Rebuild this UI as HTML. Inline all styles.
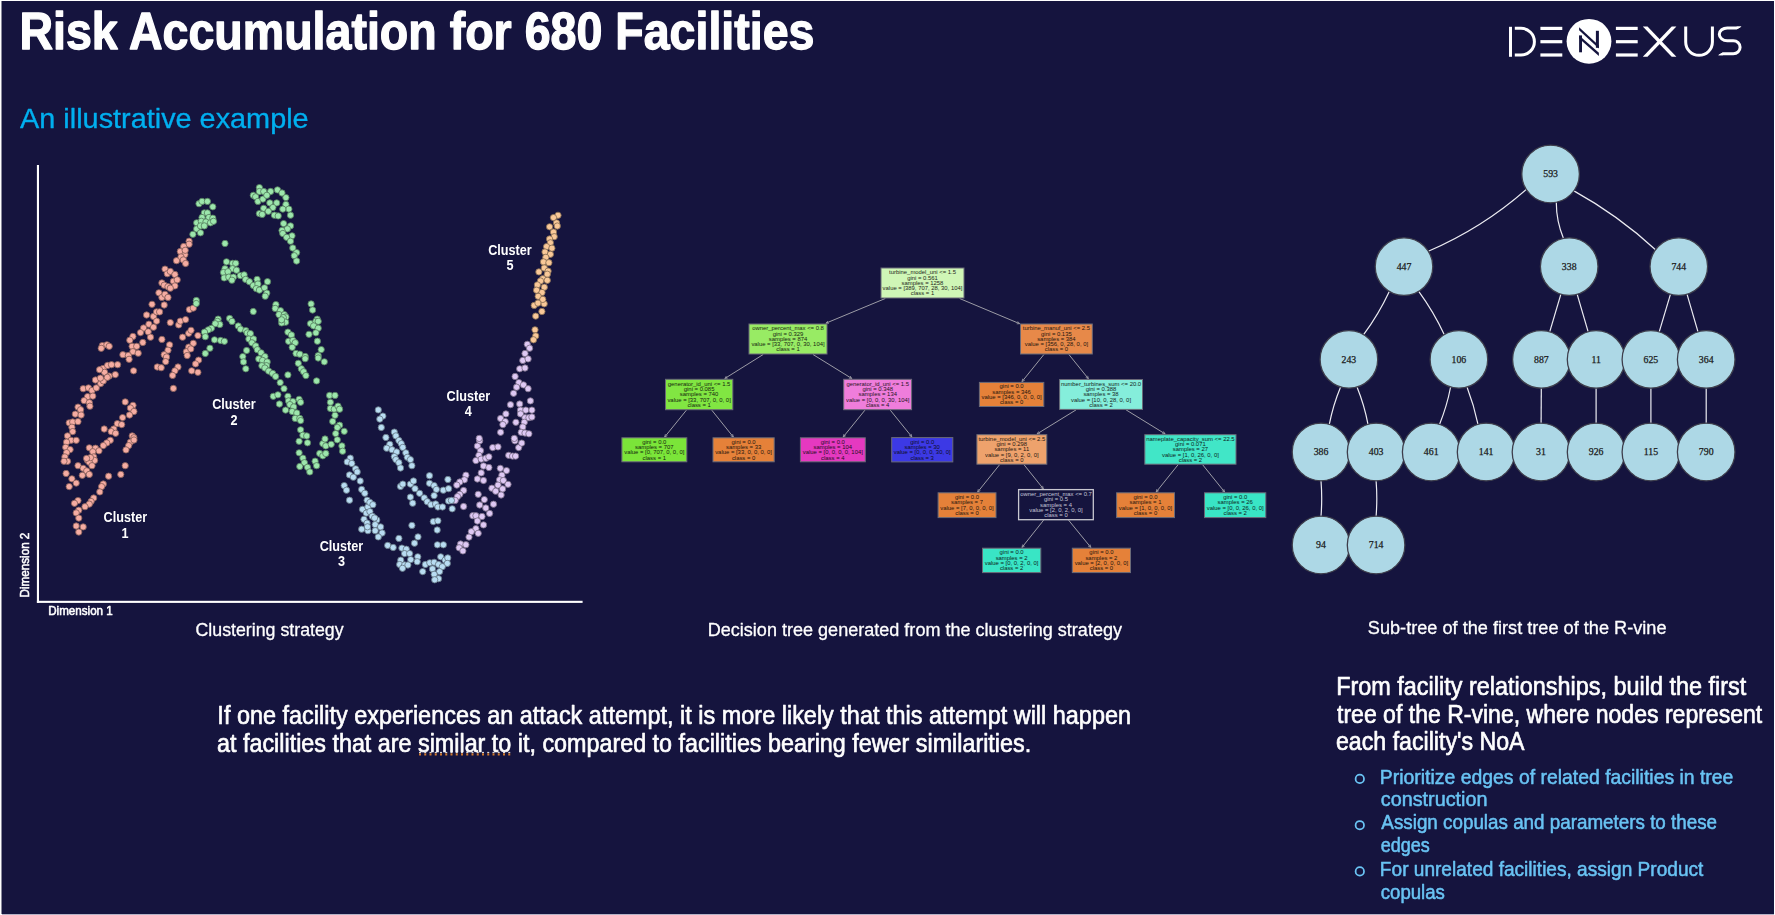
<!DOCTYPE html>
<html><head><meta charset="utf-8"><title>Risk Accumulation for 680 Facilities</title>
<style>
html,body{margin:0;padding:0;background:#fff;}
body{width:1775px;height:915px;position:relative;overflow:hidden;font-family:"Liberation Sans",sans-serif;}
#bg{position:absolute;left:2px;top:1px;width:1772px;height:913px;background:#15143e;}
#lcol{position:absolute;left:1px;top:1px;width:1px;height:913px;background:#8a8a9c;}
#bot{position:absolute;left:1.5px;top:914px;width:1772px;height:1px;background:#b4b2c6;}
svg{position:absolute;left:0;top:0;}
</style></head><body>
<div id="bg"></div><div id="lcol"></div><div id="bot"></div>
<svg width="1775" height="915" viewBox="0 0 1775 915">
<rect x="36.9" y="165" width="2.1" height="437.8" fill="#fff"/>
<rect x="36.9" y="600.8" width="545.7" height="2.1" fill="#fff"/>
<circle cx="83.2" cy="388.7" r="3.15" fill="#f5aca2" stroke="#865e59" stroke-width="0.85"/>
<circle cx="88.5" cy="387.9" r="3.15" fill="#f5aca2" stroke="#865e59" stroke-width="0.85"/>
<circle cx="92.0" cy="390.5" r="3.15" fill="#f5aca2" stroke="#865e59" stroke-width="0.85"/>
<circle cx="96.3" cy="387.9" r="3.15" fill="#f5aca2" stroke="#865e59" stroke-width="0.85"/>
<circle cx="100.7" cy="383.5" r="3.15" fill="#f5aca2" stroke="#865e59" stroke-width="0.85"/>
<circle cx="103.3" cy="380.9" r="3.15" fill="#f5aca2" stroke="#865e59" stroke-width="0.85"/>
<circle cx="95.5" cy="380.0" r="3.15" fill="#f5aca2" stroke="#865e59" stroke-width="0.85"/>
<circle cx="87.6" cy="396.6" r="3.15" fill="#f5aca2" stroke="#865e59" stroke-width="0.85"/>
<circle cx="92.8" cy="396.1" r="3.15" fill="#f5aca2" stroke="#865e59" stroke-width="0.85"/>
<circle cx="84.1" cy="400.6" r="3.15" fill="#f5aca2" stroke="#865e59" stroke-width="0.85"/>
<circle cx="89.3" cy="402.7" r="3.15" fill="#f5aca2" stroke="#865e59" stroke-width="0.85"/>
<circle cx="89.9" cy="406.2" r="3.15" fill="#f5aca2" stroke="#865e59" stroke-width="0.85"/>
<circle cx="78.0" cy="407.1" r="3.15" fill="#f5aca2" stroke="#865e59" stroke-width="0.85"/>
<circle cx="80.6" cy="409.7" r="3.15" fill="#f5aca2" stroke="#865e59" stroke-width="0.85"/>
<circle cx="75.3" cy="414.1" r="3.15" fill="#f5aca2" stroke="#865e59" stroke-width="0.85"/>
<circle cx="81.1" cy="415.0" r="3.15" fill="#f5aca2" stroke="#865e59" stroke-width="0.85"/>
<circle cx="69.2" cy="422.8" r="3.15" fill="#f5aca2" stroke="#865e59" stroke-width="0.85"/>
<circle cx="72.7" cy="422.0" r="3.15" fill="#f5aca2" stroke="#865e59" stroke-width="0.85"/>
<circle cx="78.0" cy="421.6" r="3.15" fill="#f5aca2" stroke="#865e59" stroke-width="0.85"/>
<circle cx="71.9" cy="427.2" r="3.15" fill="#f5aca2" stroke="#865e59" stroke-width="0.85"/>
<circle cx="72.7" cy="431.6" r="3.15" fill="#f5aca2" stroke="#865e59" stroke-width="0.85"/>
<circle cx="67.5" cy="435.9" r="3.15" fill="#f5aca2" stroke="#865e59" stroke-width="0.85"/>
<circle cx="71.0" cy="440.3" r="3.15" fill="#f5aca2" stroke="#865e59" stroke-width="0.85"/>
<circle cx="66.6" cy="442.1" r="3.15" fill="#f5aca2" stroke="#865e59" stroke-width="0.85"/>
<circle cx="76.2" cy="440.3" r="3.15" fill="#f5aca2" stroke="#865e59" stroke-width="0.85"/>
<circle cx="65.7" cy="447.3" r="3.15" fill="#f5aca2" stroke="#865e59" stroke-width="0.85"/>
<circle cx="70.1" cy="449.6" r="3.15" fill="#f5aca2" stroke="#865e59" stroke-width="0.85"/>
<circle cx="66.6" cy="452.6" r="3.15" fill="#f5aca2" stroke="#865e59" stroke-width="0.85"/>
<circle cx="64.9" cy="456.9" r="3.15" fill="#f5aca2" stroke="#865e59" stroke-width="0.85"/>
<circle cx="67.5" cy="461.3" r="3.15" fill="#f5aca2" stroke="#865e59" stroke-width="0.85"/>
<circle cx="64.0" cy="461.3" r="3.15" fill="#f5aca2" stroke="#865e59" stroke-width="0.85"/>
<circle cx="66.1" cy="473.5" r="3.15" fill="#f5aca2" stroke="#865e59" stroke-width="0.85"/>
<circle cx="71.9" cy="478.8" r="3.15" fill="#f5aca2" stroke="#865e59" stroke-width="0.85"/>
<circle cx="76.2" cy="483.1" r="3.15" fill="#f5aca2" stroke="#865e59" stroke-width="0.85"/>
<circle cx="69.2" cy="486.6" r="3.15" fill="#f5aca2" stroke="#865e59" stroke-width="0.85"/>
<circle cx="125.2" cy="401.9" r="3.15" fill="#f5aca2" stroke="#865e59" stroke-width="0.85"/>
<circle cx="133.0" cy="405.3" r="3.15" fill="#f5aca2" stroke="#865e59" stroke-width="0.85"/>
<circle cx="130.4" cy="408.0" r="3.15" fill="#f5aca2" stroke="#865e59" stroke-width="0.85"/>
<circle cx="133.9" cy="411.5" r="3.15" fill="#f5aca2" stroke="#865e59" stroke-width="0.85"/>
<circle cx="129.5" cy="415.0" r="3.15" fill="#f5aca2" stroke="#865e59" stroke-width="0.85"/>
<circle cx="122.6" cy="417.6" r="3.15" fill="#f5aca2" stroke="#865e59" stroke-width="0.85"/>
<circle cx="117.3" cy="423.7" r="3.15" fill="#f5aca2" stroke="#865e59" stroke-width="0.85"/>
<circle cx="121.7" cy="424.6" r="3.15" fill="#f5aca2" stroke="#865e59" stroke-width="0.85"/>
<circle cx="113.8" cy="429.0" r="3.15" fill="#f5aca2" stroke="#865e59" stroke-width="0.85"/>
<circle cx="111.2" cy="431.6" r="3.15" fill="#f5aca2" stroke="#865e59" stroke-width="0.85"/>
<circle cx="115.6" cy="433.3" r="3.15" fill="#f5aca2" stroke="#865e59" stroke-width="0.85"/>
<circle cx="110.3" cy="440.3" r="3.15" fill="#f5aca2" stroke="#865e59" stroke-width="0.85"/>
<circle cx="106.8" cy="442.9" r="3.15" fill="#f5aca2" stroke="#865e59" stroke-width="0.85"/>
<circle cx="103.3" cy="445.6" r="3.15" fill="#f5aca2" stroke="#865e59" stroke-width="0.85"/>
<circle cx="104.2" cy="429.0" r="3.15" fill="#f5aca2" stroke="#865e59" stroke-width="0.85"/>
<circle cx="89.3" cy="447.8" r="3.15" fill="#f5aca2" stroke="#865e59" stroke-width="0.85"/>
<circle cx="95.5" cy="448.2" r="3.15" fill="#f5aca2" stroke="#865e59" stroke-width="0.85"/>
<circle cx="99.0" cy="450.8" r="3.15" fill="#f5aca2" stroke="#865e59" stroke-width="0.85"/>
<circle cx="92.8" cy="451.7" r="3.15" fill="#f5aca2" stroke="#865e59" stroke-width="0.85"/>
<circle cx="93.7" cy="456.9" r="3.15" fill="#f5aca2" stroke="#865e59" stroke-width="0.85"/>
<circle cx="87.6" cy="460.4" r="3.15" fill="#f5aca2" stroke="#865e59" stroke-width="0.85"/>
<circle cx="94.6" cy="460.4" r="3.15" fill="#f5aca2" stroke="#865e59" stroke-width="0.85"/>
<circle cx="89.3" cy="462.2" r="3.15" fill="#f5aca2" stroke="#865e59" stroke-width="0.85"/>
<circle cx="92.0" cy="465.7" r="3.15" fill="#f5aca2" stroke="#865e59" stroke-width="0.85"/>
<circle cx="78.0" cy="465.7" r="3.15" fill="#f5aca2" stroke="#865e59" stroke-width="0.85"/>
<circle cx="83.2" cy="468.3" r="3.15" fill="#f5aca2" stroke="#865e59" stroke-width="0.85"/>
<circle cx="86.7" cy="470.9" r="3.15" fill="#f5aca2" stroke="#865e59" stroke-width="0.85"/>
<circle cx="89.3" cy="474.4" r="3.15" fill="#f5aca2" stroke="#865e59" stroke-width="0.85"/>
<circle cx="82.3" cy="475.3" r="3.15" fill="#f5aca2" stroke="#865e59" stroke-width="0.85"/>
<circle cx="132.2" cy="435.9" r="3.15" fill="#f5aca2" stroke="#865e59" stroke-width="0.85"/>
<circle cx="133.9" cy="437.7" r="3.15" fill="#f5aca2" stroke="#865e59" stroke-width="0.85"/>
<circle cx="130.4" cy="442.1" r="3.15" fill="#f5aca2" stroke="#865e59" stroke-width="0.85"/>
<circle cx="128.7" cy="445.6" r="3.15" fill="#f5aca2" stroke="#865e59" stroke-width="0.85"/>
<circle cx="126.0" cy="449.9" r="3.15" fill="#f5aca2" stroke="#865e59" stroke-width="0.85"/>
<circle cx="125.2" cy="465.7" r="3.15" fill="#f5aca2" stroke="#865e59" stroke-width="0.85"/>
<circle cx="120.8" cy="474.4" r="3.15" fill="#f5aca2" stroke="#865e59" stroke-width="0.85"/>
<circle cx="108.6" cy="476.2" r="3.15" fill="#f5aca2" stroke="#865e59" stroke-width="0.85"/>
<circle cx="103.3" cy="484.0" r="3.15" fill="#f5aca2" stroke="#865e59" stroke-width="0.85"/>
<circle cx="101.6" cy="486.6" r="3.15" fill="#f5aca2" stroke="#865e59" stroke-width="0.85"/>
<circle cx="99.8" cy="491.9" r="3.15" fill="#f5aca2" stroke="#865e59" stroke-width="0.85"/>
<circle cx="93.7" cy="498.0" r="3.15" fill="#f5aca2" stroke="#865e59" stroke-width="0.85"/>
<circle cx="91.1" cy="501.5" r="3.15" fill="#f5aca2" stroke="#865e59" stroke-width="0.85"/>
<circle cx="89.3" cy="504.1" r="3.15" fill="#f5aca2" stroke="#865e59" stroke-width="0.85"/>
<circle cx="85.0" cy="506.7" r="3.15" fill="#f5aca2" stroke="#865e59" stroke-width="0.85"/>
<circle cx="78.0" cy="500.6" r="3.15" fill="#f5aca2" stroke="#865e59" stroke-width="0.85"/>
<circle cx="74.5" cy="503.3" r="3.15" fill="#f5aca2" stroke="#865e59" stroke-width="0.85"/>
<circle cx="78.8" cy="510.2" r="3.15" fill="#f5aca2" stroke="#865e59" stroke-width="0.85"/>
<circle cx="76.2" cy="512.9" r="3.15" fill="#f5aca2" stroke="#865e59" stroke-width="0.85"/>
<circle cx="78.8" cy="518.1" r="3.15" fill="#f5aca2" stroke="#865e59" stroke-width="0.85"/>
<circle cx="76.2" cy="526.0" r="3.15" fill="#f5aca2" stroke="#865e59" stroke-width="0.85"/>
<circle cx="83.2" cy="526.9" r="3.15" fill="#f5aca2" stroke="#865e59" stroke-width="0.85"/>
<circle cx="78.8" cy="532.1" r="3.15" fill="#f5aca2" stroke="#865e59" stroke-width="0.85"/>
<circle cx="180.3" cy="251.5" r="3.15" fill="#f5aca2" stroke="#865e59" stroke-width="0.85"/>
<circle cx="184.9" cy="254.6" r="3.15" fill="#f5aca2" stroke="#865e59" stroke-width="0.85"/>
<circle cx="181.0" cy="256.9" r="3.15" fill="#f5aca2" stroke="#865e59" stroke-width="0.85"/>
<circle cx="176.5" cy="260.7" r="3.15" fill="#f5aca2" stroke="#865e59" stroke-width="0.85"/>
<circle cx="183.3" cy="259.9" r="3.15" fill="#f5aca2" stroke="#865e59" stroke-width="0.85"/>
<circle cx="185.6" cy="263.5" r="3.15" fill="#f5aca2" stroke="#865e59" stroke-width="0.85"/>
<circle cx="165.0" cy="269.1" r="3.15" fill="#f5aca2" stroke="#865e59" stroke-width="0.85"/>
<circle cx="167.3" cy="273.7" r="3.15" fill="#f5aca2" stroke="#865e59" stroke-width="0.85"/>
<circle cx="170.3" cy="271.4" r="3.15" fill="#f5aca2" stroke="#865e59" stroke-width="0.85"/>
<circle cx="174.9" cy="274.5" r="3.15" fill="#f5aca2" stroke="#865e59" stroke-width="0.85"/>
<circle cx="173.4" cy="281.3" r="3.15" fill="#f5aca2" stroke="#865e59" stroke-width="0.85"/>
<circle cx="177.2" cy="279.8" r="3.15" fill="#f5aca2" stroke="#865e59" stroke-width="0.85"/>
<circle cx="174.9" cy="285.9" r="3.15" fill="#f5aca2" stroke="#865e59" stroke-width="0.85"/>
<circle cx="161.9" cy="282.9" r="3.15" fill="#f5aca2" stroke="#865e59" stroke-width="0.85"/>
<circle cx="164.2" cy="285.2" r="3.15" fill="#f5aca2" stroke="#865e59" stroke-width="0.85"/>
<circle cx="168.0" cy="286.7" r="3.15" fill="#f5aca2" stroke="#865e59" stroke-width="0.85"/>
<circle cx="170.3" cy="288.2" r="3.15" fill="#f5aca2" stroke="#865e59" stroke-width="0.85"/>
<circle cx="158.9" cy="292.8" r="3.15" fill="#f5aca2" stroke="#865e59" stroke-width="0.85"/>
<circle cx="161.9" cy="297.4" r="3.15" fill="#f5aca2" stroke="#865e59" stroke-width="0.85"/>
<circle cx="165.0" cy="294.3" r="3.15" fill="#f5aca2" stroke="#865e59" stroke-width="0.85"/>
<circle cx="168.0" cy="297.4" r="3.15" fill="#f5aca2" stroke="#865e59" stroke-width="0.85"/>
<circle cx="152.0" cy="304.3" r="3.15" fill="#f5aca2" stroke="#865e59" stroke-width="0.85"/>
<circle cx="164.2" cy="305.0" r="3.15" fill="#f5aca2" stroke="#865e59" stroke-width="0.85"/>
<circle cx="146.6" cy="315.0" r="3.15" fill="#f5aca2" stroke="#865e59" stroke-width="0.85"/>
<circle cx="153.5" cy="316.5" r="3.15" fill="#f5aca2" stroke="#865e59" stroke-width="0.85"/>
<circle cx="156.6" cy="311.9" r="3.15" fill="#f5aca2" stroke="#865e59" stroke-width="0.85"/>
<circle cx="159.6" cy="311.9" r="3.15" fill="#f5aca2" stroke="#865e59" stroke-width="0.85"/>
<circle cx="156.6" cy="321.1" r="3.15" fill="#f5aca2" stroke="#865e59" stroke-width="0.85"/>
<circle cx="148.9" cy="324.2" r="3.15" fill="#f5aca2" stroke="#865e59" stroke-width="0.85"/>
<circle cx="153.5" cy="327.2" r="3.15" fill="#f5aca2" stroke="#865e59" stroke-width="0.85"/>
<circle cx="143.6" cy="328.0" r="3.15" fill="#f5aca2" stroke="#865e59" stroke-width="0.85"/>
<circle cx="140.5" cy="332.6" r="3.15" fill="#f5aca2" stroke="#865e59" stroke-width="0.85"/>
<circle cx="148.2" cy="331.8" r="3.15" fill="#f5aca2" stroke="#865e59" stroke-width="0.85"/>
<circle cx="150.5" cy="337.2" r="3.15" fill="#f5aca2" stroke="#865e59" stroke-width="0.85"/>
<circle cx="132.9" cy="336.4" r="3.15" fill="#f5aca2" stroke="#865e59" stroke-width="0.85"/>
<circle cx="129.8" cy="340.2" r="3.15" fill="#f5aca2" stroke="#865e59" stroke-width="0.85"/>
<circle cx="132.1" cy="346.3" r="3.15" fill="#f5aca2" stroke="#865e59" stroke-width="0.85"/>
<circle cx="136.7" cy="346.3" r="3.15" fill="#f5aca2" stroke="#865e59" stroke-width="0.85"/>
<circle cx="142.8" cy="342.5" r="3.15" fill="#f5aca2" stroke="#865e59" stroke-width="0.85"/>
<circle cx="132.9" cy="351.7" r="3.15" fill="#f5aca2" stroke="#865e59" stroke-width="0.85"/>
<circle cx="138.2" cy="353.2" r="3.15" fill="#f5aca2" stroke="#865e59" stroke-width="0.85"/>
<circle cx="122.9" cy="354.7" r="3.15" fill="#f5aca2" stroke="#865e59" stroke-width="0.85"/>
<circle cx="128.3" cy="355.5" r="3.15" fill="#f5aca2" stroke="#865e59" stroke-width="0.85"/>
<circle cx="129.1" cy="359.3" r="3.15" fill="#f5aca2" stroke="#865e59" stroke-width="0.85"/>
<circle cx="102.3" cy="345.6" r="3.15" fill="#f5aca2" stroke="#865e59" stroke-width="0.85"/>
<circle cx="106.9" cy="344.8" r="3.15" fill="#f5aca2" stroke="#865e59" stroke-width="0.85"/>
<circle cx="109.2" cy="346.3" r="3.15" fill="#f5aca2" stroke="#865e59" stroke-width="0.85"/>
<circle cx="103.1" cy="368.5" r="3.15" fill="#f5aca2" stroke="#865e59" stroke-width="0.85"/>
<circle cx="107.6" cy="365.4" r="3.15" fill="#f5aca2" stroke="#865e59" stroke-width="0.85"/>
<circle cx="111.5" cy="364.7" r="3.15" fill="#f5aca2" stroke="#865e59" stroke-width="0.85"/>
<circle cx="117.6" cy="364.7" r="3.15" fill="#f5aca2" stroke="#865e59" stroke-width="0.85"/>
<circle cx="104.6" cy="372.3" r="3.15" fill="#f5aca2" stroke="#865e59" stroke-width="0.85"/>
<circle cx="109.2" cy="376.1" r="3.15" fill="#f5aca2" stroke="#865e59" stroke-width="0.85"/>
<circle cx="115.3" cy="374.6" r="3.15" fill="#f5aca2" stroke="#865e59" stroke-width="0.85"/>
<circle cx="133.6" cy="370.8" r="3.15" fill="#f5aca2" stroke="#865e59" stroke-width="0.85"/>
<circle cx="161.9" cy="339.4" r="3.15" fill="#f5aca2" stroke="#865e59" stroke-width="0.85"/>
<circle cx="169.6" cy="344.8" r="3.15" fill="#f5aca2" stroke="#865e59" stroke-width="0.85"/>
<circle cx="168.0" cy="350.2" r="3.15" fill="#f5aca2" stroke="#865e59" stroke-width="0.85"/>
<circle cx="164.2" cy="354.7" r="3.15" fill="#f5aca2" stroke="#865e59" stroke-width="0.85"/>
<circle cx="166.5" cy="357.0" r="3.15" fill="#f5aca2" stroke="#865e59" stroke-width="0.85"/>
<circle cx="165.7" cy="361.6" r="3.15" fill="#f5aca2" stroke="#865e59" stroke-width="0.85"/>
<circle cx="157.3" cy="367.0" r="3.15" fill="#f5aca2" stroke="#865e59" stroke-width="0.85"/>
<circle cx="161.2" cy="367.7" r="3.15" fill="#f5aca2" stroke="#865e59" stroke-width="0.85"/>
<circle cx="170.3" cy="322.6" r="3.15" fill="#f5aca2" stroke="#865e59" stroke-width="0.85"/>
<circle cx="178.7" cy="324.9" r="3.15" fill="#f5aca2" stroke="#865e59" stroke-width="0.85"/>
<circle cx="180.3" cy="321.1" r="3.15" fill="#f5aca2" stroke="#865e59" stroke-width="0.85"/>
<circle cx="185.6" cy="319.6" r="3.15" fill="#f5aca2" stroke="#865e59" stroke-width="0.85"/>
<circle cx="189.4" cy="309.6" r="3.15" fill="#f5aca2" stroke="#865e59" stroke-width="0.85"/>
<circle cx="193.3" cy="308.1" r="3.15" fill="#f5aca2" stroke="#865e59" stroke-width="0.85"/>
<circle cx="182.6" cy="337.2" r="3.15" fill="#f5aca2" stroke="#865e59" stroke-width="0.85"/>
<circle cx="188.7" cy="333.3" r="3.15" fill="#f5aca2" stroke="#865e59" stroke-width="0.85"/>
<circle cx="191.0" cy="330.3" r="3.15" fill="#f5aca2" stroke="#865e59" stroke-width="0.85"/>
<circle cx="193.3" cy="343.3" r="3.15" fill="#f5aca2" stroke="#865e59" stroke-width="0.85"/>
<circle cx="188.7" cy="347.1" r="3.15" fill="#f5aca2" stroke="#865e59" stroke-width="0.85"/>
<circle cx="186.4" cy="351.7" r="3.15" fill="#f5aca2" stroke="#865e59" stroke-width="0.85"/>
<circle cx="187.2" cy="355.5" r="3.15" fill="#f5aca2" stroke="#865e59" stroke-width="0.85"/>
<circle cx="197.9" cy="335.6" r="3.15" fill="#f5aca2" stroke="#865e59" stroke-width="0.85"/>
<circle cx="178.0" cy="367.0" r="3.15" fill="#f5aca2" stroke="#865e59" stroke-width="0.85"/>
<circle cx="174.9" cy="370.8" r="3.15" fill="#f5aca2" stroke="#865e59" stroke-width="0.85"/>
<circle cx="172.6" cy="375.4" r="3.15" fill="#f5aca2" stroke="#865e59" stroke-width="0.85"/>
<circle cx="173.4" cy="388.4" r="3.15" fill="#f5aca2" stroke="#865e59" stroke-width="0.85"/>
<circle cx="198.6" cy="360.1" r="3.15" fill="#f5aca2" stroke="#865e59" stroke-width="0.85"/>
<circle cx="195.6" cy="363.9" r="3.15" fill="#f5aca2" stroke="#865e59" stroke-width="0.85"/>
<circle cx="191.7" cy="370.8" r="3.15" fill="#f5aca2" stroke="#865e59" stroke-width="0.85"/>
<circle cx="197.9" cy="372.3" r="3.15" fill="#f5aca2" stroke="#865e59" stroke-width="0.85"/>
<circle cx="196.3" cy="300.5" r="3.15" fill="#9ce6ac" stroke="#557e5e" stroke-width="0.85"/>
<circle cx="196.3" cy="303.5" r="3.15" fill="#9ce6ac" stroke="#557e5e" stroke-width="0.85"/>
<circle cx="189.1" cy="241.2" r="3.15" fill="#f5aca2" stroke="#865e59" stroke-width="0.85"/>
<circle cx="189.1" cy="244.2" r="3.15" fill="#f5aca2" stroke="#865e59" stroke-width="0.85"/>
<circle cx="183.7" cy="246.5" r="3.15" fill="#f5aca2" stroke="#865e59" stroke-width="0.85"/>
<circle cx="185.2" cy="250.3" r="3.15" fill="#f5aca2" stroke="#865e59" stroke-width="0.85"/>
<circle cx="199.0" cy="203.7" r="3.15" fill="#9ce6ac" stroke="#557e5e" stroke-width="0.85"/>
<circle cx="202.0" cy="201.4" r="3.15" fill="#9ce6ac" stroke="#557e5e" stroke-width="0.85"/>
<circle cx="207.4" cy="201.4" r="3.15" fill="#9ce6ac" stroke="#557e5e" stroke-width="0.85"/>
<circle cx="212.8" cy="206.8" r="3.15" fill="#9ce6ac" stroke="#557e5e" stroke-width="0.85"/>
<circle cx="204.3" cy="212.9" r="3.15" fill="#9ce6ac" stroke="#557e5e" stroke-width="0.85"/>
<circle cx="207.4" cy="212.9" r="3.15" fill="#9ce6ac" stroke="#557e5e" stroke-width="0.85"/>
<circle cx="202.0" cy="217.5" r="3.15" fill="#9ce6ac" stroke="#557e5e" stroke-width="0.85"/>
<circle cx="208.9" cy="217.5" r="3.15" fill="#9ce6ac" stroke="#557e5e" stroke-width="0.85"/>
<circle cx="212.8" cy="218.2" r="3.15" fill="#9ce6ac" stroke="#557e5e" stroke-width="0.85"/>
<circle cx="196.7" cy="222.8" r="3.15" fill="#9ce6ac" stroke="#557e5e" stroke-width="0.85"/>
<circle cx="201.3" cy="221.3" r="3.15" fill="#9ce6ac" stroke="#557e5e" stroke-width="0.85"/>
<circle cx="205.9" cy="222.0" r="3.15" fill="#9ce6ac" stroke="#557e5e" stroke-width="0.85"/>
<circle cx="210.5" cy="222.8" r="3.15" fill="#9ce6ac" stroke="#557e5e" stroke-width="0.85"/>
<circle cx="213.5" cy="221.3" r="3.15" fill="#9ce6ac" stroke="#557e5e" stroke-width="0.85"/>
<circle cx="196.7" cy="228.9" r="3.15" fill="#9ce6ac" stroke="#557e5e" stroke-width="0.85"/>
<circle cx="200.5" cy="225.9" r="3.15" fill="#9ce6ac" stroke="#557e5e" stroke-width="0.85"/>
<circle cx="204.3" cy="225.9" r="3.15" fill="#9ce6ac" stroke="#557e5e" stroke-width="0.85"/>
<circle cx="192.9" cy="234.3" r="3.15" fill="#9ce6ac" stroke="#557e5e" stroke-width="0.85"/>
<circle cx="200.5" cy="232.8" r="3.15" fill="#9ce6ac" stroke="#557e5e" stroke-width="0.85"/>
<circle cx="225.0" cy="243.5" r="3.15" fill="#9ce6ac" stroke="#557e5e" stroke-width="0.85"/>
<circle cx="226.5" cy="261.8" r="3.15" fill="#9ce6ac" stroke="#557e5e" stroke-width="0.85"/>
<circle cx="232.6" cy="263.3" r="3.15" fill="#9ce6ac" stroke="#557e5e" stroke-width="0.85"/>
<circle cx="235.7" cy="263.3" r="3.15" fill="#9ce6ac" stroke="#557e5e" stroke-width="0.85"/>
<circle cx="225.0" cy="268.7" r="3.15" fill="#9ce6ac" stroke="#557e5e" stroke-width="0.85"/>
<circle cx="232.6" cy="268.7" r="3.15" fill="#9ce6ac" stroke="#557e5e" stroke-width="0.85"/>
<circle cx="236.5" cy="270.2" r="3.15" fill="#9ce6ac" stroke="#557e5e" stroke-width="0.85"/>
<circle cx="223.5" cy="272.5" r="3.15" fill="#9ce6ac" stroke="#557e5e" stroke-width="0.85"/>
<circle cx="228.0" cy="271.7" r="3.15" fill="#9ce6ac" stroke="#557e5e" stroke-width="0.85"/>
<circle cx="224.2" cy="277.9" r="3.15" fill="#9ce6ac" stroke="#557e5e" stroke-width="0.85"/>
<circle cx="228.8" cy="277.1" r="3.15" fill="#9ce6ac" stroke="#557e5e" stroke-width="0.85"/>
<circle cx="233.4" cy="277.1" r="3.15" fill="#9ce6ac" stroke="#557e5e" stroke-width="0.85"/>
<circle cx="231.9" cy="280.2" r="3.15" fill="#9ce6ac" stroke="#557e5e" stroke-width="0.85"/>
<circle cx="240.3" cy="275.6" r="3.15" fill="#9ce6ac" stroke="#557e5e" stroke-width="0.85"/>
<circle cx="244.1" cy="274.8" r="3.15" fill="#9ce6ac" stroke="#557e5e" stroke-width="0.85"/>
<circle cx="245.6" cy="279.4" r="3.15" fill="#9ce6ac" stroke="#557e5e" stroke-width="0.85"/>
<circle cx="249.4" cy="281.7" r="3.15" fill="#9ce6ac" stroke="#557e5e" stroke-width="0.85"/>
<circle cx="253.3" cy="285.5" r="3.15" fill="#9ce6ac" stroke="#557e5e" stroke-width="0.85"/>
<circle cx="257.1" cy="279.4" r="3.15" fill="#9ce6ac" stroke="#557e5e" stroke-width="0.85"/>
<circle cx="257.9" cy="284.0" r="3.15" fill="#9ce6ac" stroke="#557e5e" stroke-width="0.85"/>
<circle cx="256.3" cy="288.6" r="3.15" fill="#9ce6ac" stroke="#557e5e" stroke-width="0.85"/>
<circle cx="259.4" cy="290.1" r="3.15" fill="#9ce6ac" stroke="#557e5e" stroke-width="0.85"/>
<circle cx="253.3" cy="195.3" r="3.15" fill="#9ce6ac" stroke="#557e5e" stroke-width="0.85"/>
<circle cx="255.6" cy="196.8" r="3.15" fill="#9ce6ac" stroke="#557e5e" stroke-width="0.85"/>
<circle cx="257.9" cy="201.4" r="3.15" fill="#9ce6ac" stroke="#557e5e" stroke-width="0.85"/>
<circle cx="259.4" cy="187.6" r="3.15" fill="#9ce6ac" stroke="#557e5e" stroke-width="0.85"/>
<circle cx="259.4" cy="191.5" r="3.15" fill="#9ce6ac" stroke="#557e5e" stroke-width="0.85"/>
<circle cx="259.4" cy="213.6" r="3.15" fill="#9ce6ac" stroke="#557e5e" stroke-width="0.85"/>
<circle cx="253.3" cy="311.5" r="3.15" fill="#9ce6ac" stroke="#557e5e" stroke-width="0.85"/>
<circle cx="218.1" cy="319.1" r="3.15" fill="#9ce6ac" stroke="#557e5e" stroke-width="0.85"/>
<circle cx="229.6" cy="318.4" r="3.15" fill="#9ce6ac" stroke="#557e5e" stroke-width="0.85"/>
<circle cx="263.7" cy="191.5" r="3.15" fill="#9ce6ac" stroke="#557e5e" stroke-width="0.85"/>
<circle cx="270.6" cy="191.5" r="3.15" fill="#9ce6ac" stroke="#557e5e" stroke-width="0.85"/>
<circle cx="277.5" cy="189.9" r="3.15" fill="#9ce6ac" stroke="#557e5e" stroke-width="0.85"/>
<circle cx="282.0" cy="193.0" r="3.15" fill="#9ce6ac" stroke="#557e5e" stroke-width="0.85"/>
<circle cx="285.9" cy="197.6" r="3.15" fill="#9ce6ac" stroke="#557e5e" stroke-width="0.85"/>
<circle cx="262.9" cy="199.1" r="3.15" fill="#9ce6ac" stroke="#557e5e" stroke-width="0.85"/>
<circle cx="266.8" cy="195.3" r="3.15" fill="#9ce6ac" stroke="#557e5e" stroke-width="0.85"/>
<circle cx="269.8" cy="202.9" r="3.15" fill="#9ce6ac" stroke="#557e5e" stroke-width="0.85"/>
<circle cx="276.7" cy="202.9" r="3.15" fill="#9ce6ac" stroke="#557e5e" stroke-width="0.85"/>
<circle cx="272.9" cy="207.5" r="3.15" fill="#9ce6ac" stroke="#557e5e" stroke-width="0.85"/>
<circle cx="263.7" cy="208.3" r="3.15" fill="#9ce6ac" stroke="#557e5e" stroke-width="0.85"/>
<circle cx="268.3" cy="211.3" r="3.15" fill="#9ce6ac" stroke="#557e5e" stroke-width="0.85"/>
<circle cx="262.2" cy="214.4" r="3.15" fill="#9ce6ac" stroke="#557e5e" stroke-width="0.85"/>
<circle cx="274.4" cy="215.2" r="3.15" fill="#9ce6ac" stroke="#557e5e" stroke-width="0.85"/>
<circle cx="278.2" cy="215.9" r="3.15" fill="#9ce6ac" stroke="#557e5e" stroke-width="0.85"/>
<circle cx="285.9" cy="204.5" r="3.15" fill="#9ce6ac" stroke="#557e5e" stroke-width="0.85"/>
<circle cx="288.9" cy="209.1" r="3.15" fill="#9ce6ac" stroke="#557e5e" stroke-width="0.85"/>
<circle cx="282.8" cy="209.1" r="3.15" fill="#9ce6ac" stroke="#557e5e" stroke-width="0.85"/>
<circle cx="290.5" cy="215.2" r="3.15" fill="#9ce6ac" stroke="#557e5e" stroke-width="0.85"/>
<circle cx="283.6" cy="223.6" r="3.15" fill="#9ce6ac" stroke="#557e5e" stroke-width="0.85"/>
<circle cx="290.5" cy="225.9" r="3.15" fill="#9ce6ac" stroke="#557e5e" stroke-width="0.85"/>
<circle cx="287.4" cy="228.9" r="3.15" fill="#9ce6ac" stroke="#557e5e" stroke-width="0.85"/>
<circle cx="282.0" cy="230.5" r="3.15" fill="#9ce6ac" stroke="#557e5e" stroke-width="0.85"/>
<circle cx="282.8" cy="233.5" r="3.15" fill="#9ce6ac" stroke="#557e5e" stroke-width="0.85"/>
<circle cx="292.0" cy="235.8" r="3.15" fill="#9ce6ac" stroke="#557e5e" stroke-width="0.85"/>
<circle cx="286.6" cy="237.3" r="3.15" fill="#9ce6ac" stroke="#557e5e" stroke-width="0.85"/>
<circle cx="290.5" cy="241.2" r="3.15" fill="#9ce6ac" stroke="#557e5e" stroke-width="0.85"/>
<circle cx="292.8" cy="248.0" r="3.15" fill="#9ce6ac" stroke="#557e5e" stroke-width="0.85"/>
<circle cx="296.6" cy="252.6" r="3.15" fill="#9ce6ac" stroke="#557e5e" stroke-width="0.85"/>
<circle cx="294.3" cy="255.7" r="3.15" fill="#9ce6ac" stroke="#557e5e" stroke-width="0.85"/>
<circle cx="296.6" cy="261.0" r="3.15" fill="#9ce6ac" stroke="#557e5e" stroke-width="0.85"/>
<circle cx="267.5" cy="281.7" r="3.15" fill="#9ce6ac" stroke="#557e5e" stroke-width="0.85"/>
<circle cx="264.5" cy="287.8" r="3.15" fill="#9ce6ac" stroke="#557e5e" stroke-width="0.85"/>
<circle cx="266.8" cy="293.1" r="3.15" fill="#9ce6ac" stroke="#557e5e" stroke-width="0.85"/>
<circle cx="265.2" cy="296.2" r="3.15" fill="#9ce6ac" stroke="#557e5e" stroke-width="0.85"/>
<circle cx="275.9" cy="304.6" r="3.15" fill="#9ce6ac" stroke="#557e5e" stroke-width="0.85"/>
<circle cx="275.2" cy="308.4" r="3.15" fill="#9ce6ac" stroke="#557e5e" stroke-width="0.85"/>
<circle cx="280.5" cy="310.7" r="3.15" fill="#9ce6ac" stroke="#557e5e" stroke-width="0.85"/>
<circle cx="279.0" cy="314.6" r="3.15" fill="#9ce6ac" stroke="#557e5e" stroke-width="0.85"/>
<circle cx="284.3" cy="314.6" r="3.15" fill="#9ce6ac" stroke="#557e5e" stroke-width="0.85"/>
<circle cx="285.9" cy="316.9" r="3.15" fill="#9ce6ac" stroke="#557e5e" stroke-width="0.85"/>
<circle cx="311.1" cy="303.9" r="3.15" fill="#9ce6ac" stroke="#557e5e" stroke-width="0.85"/>
<circle cx="312.6" cy="310.0" r="3.15" fill="#9ce6ac" stroke="#557e5e" stroke-width="0.85"/>
<circle cx="317.2" cy="319.1" r="3.15" fill="#9ce6ac" stroke="#557e5e" stroke-width="0.85"/>
<circle cx="217.5" cy="321.4" r="3.15" fill="#9ce6ac" stroke="#557e5e" stroke-width="0.85"/>
<circle cx="219.8" cy="324.5" r="3.15" fill="#9ce6ac" stroke="#557e5e" stroke-width="0.85"/>
<circle cx="215.2" cy="323.7" r="3.15" fill="#9ce6ac" stroke="#557e5e" stroke-width="0.85"/>
<circle cx="211.4" cy="328.3" r="3.15" fill="#9ce6ac" stroke="#557e5e" stroke-width="0.85"/>
<circle cx="208.3" cy="329.8" r="3.15" fill="#9ce6ac" stroke="#557e5e" stroke-width="0.85"/>
<circle cx="204.5" cy="332.1" r="3.15" fill="#9ce6ac" stroke="#557e5e" stroke-width="0.85"/>
<circle cx="205.3" cy="336.7" r="3.15" fill="#9ce6ac" stroke="#557e5e" stroke-width="0.85"/>
<circle cx="214.5" cy="339.8" r="3.15" fill="#9ce6ac" stroke="#557e5e" stroke-width="0.85"/>
<circle cx="220.6" cy="340.5" r="3.15" fill="#9ce6ac" stroke="#557e5e" stroke-width="0.85"/>
<circle cx="224.4" cy="341.3" r="3.15" fill="#9ce6ac" stroke="#557e5e" stroke-width="0.85"/>
<circle cx="209.9" cy="348.2" r="3.15" fill="#9ce6ac" stroke="#557e5e" stroke-width="0.85"/>
<circle cx="205.3" cy="353.5" r="3.15" fill="#9ce6ac" stroke="#557e5e" stroke-width="0.85"/>
<circle cx="232.0" cy="321.4" r="3.15" fill="#9ce6ac" stroke="#557e5e" stroke-width="0.85"/>
<circle cx="238.2" cy="326.0" r="3.15" fill="#9ce6ac" stroke="#557e5e" stroke-width="0.85"/>
<circle cx="240.5" cy="329.1" r="3.15" fill="#9ce6ac" stroke="#557e5e" stroke-width="0.85"/>
<circle cx="245.8" cy="330.6" r="3.15" fill="#9ce6ac" stroke="#557e5e" stroke-width="0.85"/>
<circle cx="247.3" cy="332.9" r="3.15" fill="#9ce6ac" stroke="#557e5e" stroke-width="0.85"/>
<circle cx="250.4" cy="333.6" r="3.15" fill="#9ce6ac" stroke="#557e5e" stroke-width="0.85"/>
<circle cx="248.9" cy="339.0" r="3.15" fill="#9ce6ac" stroke="#557e5e" stroke-width="0.85"/>
<circle cx="253.5" cy="339.0" r="3.15" fill="#9ce6ac" stroke="#557e5e" stroke-width="0.85"/>
<circle cx="251.9" cy="342.8" r="3.15" fill="#9ce6ac" stroke="#557e5e" stroke-width="0.85"/>
<circle cx="255.7" cy="345.9" r="3.15" fill="#9ce6ac" stroke="#557e5e" stroke-width="0.85"/>
<circle cx="257.3" cy="349.7" r="3.15" fill="#9ce6ac" stroke="#557e5e" stroke-width="0.85"/>
<circle cx="261.1" cy="352.8" r="3.15" fill="#9ce6ac" stroke="#557e5e" stroke-width="0.85"/>
<circle cx="264.9" cy="356.6" r="3.15" fill="#9ce6ac" stroke="#557e5e" stroke-width="0.85"/>
<circle cx="258.8" cy="358.9" r="3.15" fill="#9ce6ac" stroke="#557e5e" stroke-width="0.85"/>
<circle cx="262.6" cy="360.4" r="3.15" fill="#9ce6ac" stroke="#557e5e" stroke-width="0.85"/>
<circle cx="267.2" cy="361.9" r="3.15" fill="#9ce6ac" stroke="#557e5e" stroke-width="0.85"/>
<circle cx="266.5" cy="365.7" r="3.15" fill="#9ce6ac" stroke="#557e5e" stroke-width="0.85"/>
<circle cx="261.9" cy="365.7" r="3.15" fill="#9ce6ac" stroke="#557e5e" stroke-width="0.85"/>
<circle cx="264.9" cy="368.0" r="3.15" fill="#9ce6ac" stroke="#557e5e" stroke-width="0.85"/>
<circle cx="268.7" cy="371.1" r="3.15" fill="#9ce6ac" stroke="#557e5e" stroke-width="0.85"/>
<circle cx="272.6" cy="373.4" r="3.15" fill="#9ce6ac" stroke="#557e5e" stroke-width="0.85"/>
<circle cx="275.6" cy="376.5" r="3.15" fill="#9ce6ac" stroke="#557e5e" stroke-width="0.85"/>
<circle cx="280.2" cy="382.6" r="3.15" fill="#9ce6ac" stroke="#557e5e" stroke-width="0.85"/>
<circle cx="284.0" cy="388.7" r="3.15" fill="#9ce6ac" stroke="#557e5e" stroke-width="0.85"/>
<circle cx="246.6" cy="350.5" r="3.15" fill="#9ce6ac" stroke="#557e5e" stroke-width="0.85"/>
<circle cx="242.8" cy="356.6" r="3.15" fill="#9ce6ac" stroke="#557e5e" stroke-width="0.85"/>
<circle cx="243.5" cy="361.9" r="3.15" fill="#9ce6ac" stroke="#557e5e" stroke-width="0.85"/>
<circle cx="245.8" cy="368.8" r="3.15" fill="#9ce6ac" stroke="#557e5e" stroke-width="0.85"/>
<circle cx="283.3" cy="317.6" r="3.15" fill="#9ce6ac" stroke="#557e5e" stroke-width="0.85"/>
<circle cx="285.6" cy="322.2" r="3.15" fill="#9ce6ac" stroke="#557e5e" stroke-width="0.85"/>
<circle cx="281.7" cy="322.9" r="3.15" fill="#9ce6ac" stroke="#557e5e" stroke-width="0.85"/>
<circle cx="287.9" cy="332.1" r="3.15" fill="#9ce6ac" stroke="#557e5e" stroke-width="0.85"/>
<circle cx="288.6" cy="341.3" r="3.15" fill="#9ce6ac" stroke="#557e5e" stroke-width="0.85"/>
<circle cx="287.9" cy="374.9" r="3.15" fill="#9ce6ac" stroke="#557e5e" stroke-width="0.85"/>
<circle cx="273.3" cy="396.3" r="3.15" fill="#9ce6ac" stroke="#557e5e" stroke-width="0.85"/>
<circle cx="277.9" cy="394.8" r="3.15" fill="#9ce6ac" stroke="#557e5e" stroke-width="0.85"/>
<circle cx="279.4" cy="404.0" r="3.15" fill="#9ce6ac" stroke="#557e5e" stroke-width="0.85"/>
<circle cx="285.6" cy="410.1" r="3.15" fill="#9ce6ac" stroke="#557e5e" stroke-width="0.85"/>
<circle cx="287.9" cy="396.3" r="3.15" fill="#9ce6ac" stroke="#557e5e" stroke-width="0.85"/>
<circle cx="288.6" cy="400.9" r="3.15" fill="#9ce6ac" stroke="#557e5e" stroke-width="0.85"/>
<circle cx="190.8" cy="348.9" r="3.15" fill="#f5aca2" stroke="#865e59" stroke-width="0.85"/>
<circle cx="281.5" cy="319.8" r="3.15" fill="#9ce6ac" stroke="#557e5e" stroke-width="0.85"/>
<circle cx="310.5" cy="323.6" r="3.15" fill="#9ce6ac" stroke="#557e5e" stroke-width="0.85"/>
<circle cx="315.9" cy="321.3" r="3.15" fill="#9ce6ac" stroke="#557e5e" stroke-width="0.85"/>
<circle cx="318.2" cy="321.3" r="3.15" fill="#9ce6ac" stroke="#557e5e" stroke-width="0.85"/>
<circle cx="313.6" cy="325.9" r="3.15" fill="#9ce6ac" stroke="#557e5e" stroke-width="0.85"/>
<circle cx="318.2" cy="328.2" r="3.15" fill="#9ce6ac" stroke="#557e5e" stroke-width="0.85"/>
<circle cx="315.9" cy="332.8" r="3.15" fill="#9ce6ac" stroke="#557e5e" stroke-width="0.85"/>
<circle cx="309.0" cy="334.3" r="3.15" fill="#9ce6ac" stroke="#557e5e" stroke-width="0.85"/>
<circle cx="317.4" cy="341.2" r="3.15" fill="#9ce6ac" stroke="#557e5e" stroke-width="0.85"/>
<circle cx="321.2" cy="349.6" r="3.15" fill="#9ce6ac" stroke="#557e5e" stroke-width="0.85"/>
<circle cx="318.2" cy="355.7" r="3.15" fill="#9ce6ac" stroke="#557e5e" stroke-width="0.85"/>
<circle cx="318.2" cy="358.0" r="3.15" fill="#9ce6ac" stroke="#557e5e" stroke-width="0.85"/>
<circle cx="324.3" cy="361.8" r="3.15" fill="#9ce6ac" stroke="#557e5e" stroke-width="0.85"/>
<circle cx="291.4" cy="335.0" r="3.15" fill="#9ce6ac" stroke="#557e5e" stroke-width="0.85"/>
<circle cx="292.9" cy="340.4" r="3.15" fill="#9ce6ac" stroke="#557e5e" stroke-width="0.85"/>
<circle cx="295.2" cy="342.7" r="3.15" fill="#9ce6ac" stroke="#557e5e" stroke-width="0.85"/>
<circle cx="292.2" cy="347.3" r="3.15" fill="#9ce6ac" stroke="#557e5e" stroke-width="0.85"/>
<circle cx="296.0" cy="353.4" r="3.15" fill="#9ce6ac" stroke="#557e5e" stroke-width="0.85"/>
<circle cx="299.8" cy="354.2" r="3.15" fill="#9ce6ac" stroke="#557e5e" stroke-width="0.85"/>
<circle cx="305.2" cy="356.5" r="3.15" fill="#9ce6ac" stroke="#557e5e" stroke-width="0.85"/>
<circle cx="305.2" cy="358.7" r="3.15" fill="#9ce6ac" stroke="#557e5e" stroke-width="0.85"/>
<circle cx="298.3" cy="363.3" r="3.15" fill="#9ce6ac" stroke="#557e5e" stroke-width="0.85"/>
<circle cx="301.3" cy="368.7" r="3.15" fill="#9ce6ac" stroke="#557e5e" stroke-width="0.85"/>
<circle cx="303.6" cy="371.7" r="3.15" fill="#9ce6ac" stroke="#557e5e" stroke-width="0.85"/>
<circle cx="305.9" cy="375.6" r="3.15" fill="#9ce6ac" stroke="#557e5e" stroke-width="0.85"/>
<circle cx="316.6" cy="380.9" r="3.15" fill="#9ce6ac" stroke="#557e5e" stroke-width="0.85"/>
<circle cx="292.9" cy="401.6" r="3.15" fill="#9ce6ac" stroke="#557e5e" stroke-width="0.85"/>
<circle cx="289.9" cy="404.6" r="3.15" fill="#9ce6ac" stroke="#557e5e" stroke-width="0.85"/>
<circle cx="293.7" cy="406.9" r="3.15" fill="#9ce6ac" stroke="#557e5e" stroke-width="0.85"/>
<circle cx="292.2" cy="411.5" r="3.15" fill="#9ce6ac" stroke="#557e5e" stroke-width="0.85"/>
<circle cx="296.8" cy="413.0" r="3.15" fill="#9ce6ac" stroke="#557e5e" stroke-width="0.85"/>
<circle cx="299.1" cy="399.3" r="3.15" fill="#9ce6ac" stroke="#557e5e" stroke-width="0.85"/>
<circle cx="300.6" cy="402.3" r="3.15" fill="#9ce6ac" stroke="#557e5e" stroke-width="0.85"/>
<circle cx="295.2" cy="418.4" r="3.15" fill="#9ce6ac" stroke="#557e5e" stroke-width="0.85"/>
<circle cx="299.8" cy="418.4" r="3.15" fill="#9ce6ac" stroke="#557e5e" stroke-width="0.85"/>
<circle cx="329.6" cy="395.4" r="3.15" fill="#9ce6ac" stroke="#557e5e" stroke-width="0.85"/>
<circle cx="335.0" cy="395.4" r="3.15" fill="#9ce6ac" stroke="#557e5e" stroke-width="0.85"/>
<circle cx="330.4" cy="402.3" r="3.15" fill="#9ce6ac" stroke="#557e5e" stroke-width="0.85"/>
<circle cx="330.4" cy="408.4" r="3.15" fill="#9ce6ac" stroke="#557e5e" stroke-width="0.85"/>
<circle cx="334.2" cy="409.2" r="3.15" fill="#9ce6ac" stroke="#557e5e" stroke-width="0.85"/>
<circle cx="338.0" cy="406.1" r="3.15" fill="#9ce6ac" stroke="#557e5e" stroke-width="0.85"/>
<circle cx="339.6" cy="409.2" r="3.15" fill="#9ce6ac" stroke="#557e5e" stroke-width="0.85"/>
<circle cx="335.0" cy="415.3" r="3.15" fill="#9ce6ac" stroke="#557e5e" stroke-width="0.85"/>
<circle cx="300.6" cy="420.6" r="3.15" fill="#9ce6ac" stroke="#557e5e" stroke-width="0.85"/>
<circle cx="300.6" cy="429.8" r="3.15" fill="#9ce6ac" stroke="#557e5e" stroke-width="0.85"/>
<circle cx="302.9" cy="435.2" r="3.15" fill="#9ce6ac" stroke="#557e5e" stroke-width="0.85"/>
<circle cx="306.7" cy="435.9" r="3.15" fill="#9ce6ac" stroke="#557e5e" stroke-width="0.85"/>
<circle cx="299.1" cy="441.3" r="3.15" fill="#9ce6ac" stroke="#557e5e" stroke-width="0.85"/>
<circle cx="307.5" cy="442.8" r="3.15" fill="#9ce6ac" stroke="#557e5e" stroke-width="0.85"/>
<circle cx="299.1" cy="452.8" r="3.15" fill="#9ce6ac" stroke="#557e5e" stroke-width="0.85"/>
<circle cx="302.9" cy="458.1" r="3.15" fill="#9ce6ac" stroke="#557e5e" stroke-width="0.85"/>
<circle cx="304.4" cy="462.7" r="3.15" fill="#9ce6ac" stroke="#557e5e" stroke-width="0.85"/>
<circle cx="299.8" cy="466.5" r="3.15" fill="#9ce6ac" stroke="#557e5e" stroke-width="0.85"/>
<circle cx="307.5" cy="467.3" r="3.15" fill="#9ce6ac" stroke="#557e5e" stroke-width="0.85"/>
<circle cx="309.8" cy="471.9" r="3.15" fill="#9ce6ac" stroke="#557e5e" stroke-width="0.85"/>
<circle cx="315.1" cy="461.2" r="3.15" fill="#9ce6ac" stroke="#557e5e" stroke-width="0.85"/>
<circle cx="316.6" cy="465.7" r="3.15" fill="#9ce6ac" stroke="#557e5e" stroke-width="0.85"/>
<circle cx="319.7" cy="453.5" r="3.15" fill="#9ce6ac" stroke="#557e5e" stroke-width="0.85"/>
<circle cx="322.8" cy="455.8" r="3.15" fill="#9ce6ac" stroke="#557e5e" stroke-width="0.85"/>
<circle cx="325.8" cy="453.5" r="3.15" fill="#9ce6ac" stroke="#557e5e" stroke-width="0.85"/>
<circle cx="322.8" cy="443.6" r="3.15" fill="#9ce6ac" stroke="#557e5e" stroke-width="0.85"/>
<circle cx="325.0" cy="439.0" r="3.15" fill="#9ce6ac" stroke="#557e5e" stroke-width="0.85"/>
<circle cx="325.8" cy="445.9" r="3.15" fill="#9ce6ac" stroke="#557e5e" stroke-width="0.85"/>
<circle cx="331.2" cy="444.3" r="3.15" fill="#9ce6ac" stroke="#557e5e" stroke-width="0.85"/>
<circle cx="332.7" cy="421.4" r="3.15" fill="#9ce6ac" stroke="#557e5e" stroke-width="0.85"/>
<circle cx="339.6" cy="425.2" r="3.15" fill="#9ce6ac" stroke="#557e5e" stroke-width="0.85"/>
<circle cx="337.3" cy="427.5" r="3.15" fill="#9ce6ac" stroke="#557e5e" stroke-width="0.85"/>
<circle cx="344.2" cy="431.3" r="3.15" fill="#9ce6ac" stroke="#557e5e" stroke-width="0.85"/>
<circle cx="335.7" cy="433.6" r="3.15" fill="#9ce6ac" stroke="#557e5e" stroke-width="0.85"/>
<circle cx="337.3" cy="439.8" r="3.15" fill="#9ce6ac" stroke="#557e5e" stroke-width="0.85"/>
<circle cx="341.9" cy="445.9" r="3.15" fill="#9ce6ac" stroke="#557e5e" stroke-width="0.85"/>
<circle cx="342.6" cy="451.2" r="3.15" fill="#9ce6ac" stroke="#557e5e" stroke-width="0.85"/>
<circle cx="350.3" cy="458.1" r="3.15" fill="#b8dcf2" stroke="#657985" stroke-width="0.85"/>
<circle cx="347.2" cy="461.9" r="3.15" fill="#b8dcf2" stroke="#657985" stroke-width="0.85"/>
<circle cx="351.8" cy="463.5" r="3.15" fill="#b8dcf2" stroke="#657985" stroke-width="0.85"/>
<circle cx="355.6" cy="468.8" r="3.15" fill="#b8dcf2" stroke="#657985" stroke-width="0.85"/>
<circle cx="357.2" cy="471.9" r="3.15" fill="#b8dcf2" stroke="#657985" stroke-width="0.85"/>
<circle cx="349.5" cy="474.9" r="3.15" fill="#b8dcf2" stroke="#657985" stroke-width="0.85"/>
<circle cx="353.3" cy="477.2" r="3.15" fill="#b8dcf2" stroke="#657985" stroke-width="0.85"/>
<circle cx="360.2" cy="481.0" r="3.15" fill="#b8dcf2" stroke="#657985" stroke-width="0.85"/>
<circle cx="361.7" cy="489.4" r="3.15" fill="#b8dcf2" stroke="#657985" stroke-width="0.85"/>
<circle cx="364.8" cy="493.3" r="3.15" fill="#b8dcf2" stroke="#657985" stroke-width="0.85"/>
<circle cx="367.1" cy="500.2" r="3.15" fill="#b8dcf2" stroke="#657985" stroke-width="0.85"/>
<circle cx="362.5" cy="509.3" r="3.15" fill="#b8dcf2" stroke="#657985" stroke-width="0.85"/>
<circle cx="367.9" cy="507.0" r="3.15" fill="#b8dcf2" stroke="#657985" stroke-width="0.85"/>
<circle cx="366.3" cy="513.1" r="3.15" fill="#b8dcf2" stroke="#657985" stroke-width="0.85"/>
<circle cx="364.0" cy="519.3" r="3.15" fill="#b8dcf2" stroke="#657985" stroke-width="0.85"/>
<circle cx="367.1" cy="523.1" r="3.15" fill="#b8dcf2" stroke="#657985" stroke-width="0.85"/>
<circle cx="361.7" cy="529.2" r="3.15" fill="#b8dcf2" stroke="#657985" stroke-width="0.85"/>
<circle cx="367.9" cy="530.7" r="3.15" fill="#b8dcf2" stroke="#657985" stroke-width="0.85"/>
<circle cx="344.2" cy="485.6" r="3.15" fill="#b8dcf2" stroke="#657985" stroke-width="0.85"/>
<circle cx="346.5" cy="490.2" r="3.15" fill="#b8dcf2" stroke="#657985" stroke-width="0.85"/>
<circle cx="349.5" cy="500.2" r="3.15" fill="#b8dcf2" stroke="#657985" stroke-width="0.85"/>
<circle cx="378.3" cy="409.9" r="3.15" fill="#b8dcf2" stroke="#657985" stroke-width="0.85"/>
<circle cx="382.9" cy="416.1" r="3.15" fill="#b8dcf2" stroke="#657985" stroke-width="0.85"/>
<circle cx="379.8" cy="419.1" r="3.15" fill="#b8dcf2" stroke="#657985" stroke-width="0.85"/>
<circle cx="381.3" cy="427.5" r="3.15" fill="#b8dcf2" stroke="#657985" stroke-width="0.85"/>
<circle cx="385.9" cy="437.5" r="3.15" fill="#b8dcf2" stroke="#657985" stroke-width="0.85"/>
<circle cx="394.3" cy="432.1" r="3.15" fill="#b8dcf2" stroke="#657985" stroke-width="0.85"/>
<circle cx="395.9" cy="435.9" r="3.15" fill="#b8dcf2" stroke="#657985" stroke-width="0.85"/>
<circle cx="398.9" cy="440.5" r="3.15" fill="#b8dcf2" stroke="#657985" stroke-width="0.85"/>
<circle cx="401.2" cy="443.6" r="3.15" fill="#b8dcf2" stroke="#657985" stroke-width="0.85"/>
<circle cx="402.8" cy="447.4" r="3.15" fill="#b8dcf2" stroke="#657985" stroke-width="0.85"/>
<circle cx="405.8" cy="452.8" r="3.15" fill="#b8dcf2" stroke="#657985" stroke-width="0.85"/>
<circle cx="407.3" cy="457.3" r="3.15" fill="#b8dcf2" stroke="#657985" stroke-width="0.85"/>
<circle cx="410.4" cy="459.6" r="3.15" fill="#b8dcf2" stroke="#657985" stroke-width="0.85"/>
<circle cx="411.9" cy="465.7" r="3.15" fill="#b8dcf2" stroke="#657985" stroke-width="0.85"/>
<circle cx="389.8" cy="444.3" r="3.15" fill="#b8dcf2" stroke="#657985" stroke-width="0.85"/>
<circle cx="386.7" cy="448.2" r="3.15" fill="#b8dcf2" stroke="#657985" stroke-width="0.85"/>
<circle cx="392.0" cy="449.7" r="3.15" fill="#b8dcf2" stroke="#657985" stroke-width="0.85"/>
<circle cx="396.6" cy="452.0" r="3.15" fill="#b8dcf2" stroke="#657985" stroke-width="0.85"/>
<circle cx="394.3" cy="456.6" r="3.15" fill="#b8dcf2" stroke="#657985" stroke-width="0.85"/>
<circle cx="395.9" cy="459.6" r="3.15" fill="#b8dcf2" stroke="#657985" stroke-width="0.85"/>
<circle cx="398.9" cy="462.7" r="3.15" fill="#b8dcf2" stroke="#657985" stroke-width="0.85"/>
<circle cx="400.5" cy="468.0" r="3.15" fill="#b8dcf2" stroke="#657985" stroke-width="0.85"/>
<circle cx="369.9" cy="502.4" r="3.15" fill="#b8dcf2" stroke="#657985" stroke-width="0.85"/>
<circle cx="372.9" cy="504.7" r="3.15" fill="#b8dcf2" stroke="#657985" stroke-width="0.85"/>
<circle cx="369.9" cy="511.6" r="3.15" fill="#b8dcf2" stroke="#657985" stroke-width="0.85"/>
<circle cx="372.2" cy="516.2" r="3.15" fill="#b8dcf2" stroke="#657985" stroke-width="0.85"/>
<circle cx="376.8" cy="520.0" r="3.15" fill="#b8dcf2" stroke="#657985" stroke-width="0.85"/>
<circle cx="375.2" cy="524.6" r="3.15" fill="#b8dcf2" stroke="#657985" stroke-width="0.85"/>
<circle cx="380.6" cy="526.9" r="3.15" fill="#b8dcf2" stroke="#657985" stroke-width="0.85"/>
<circle cx="375.2" cy="530.7" r="3.15" fill="#b8dcf2" stroke="#657985" stroke-width="0.85"/>
<circle cx="382.1" cy="533.0" r="3.15" fill="#b8dcf2" stroke="#657985" stroke-width="0.85"/>
<circle cx="378.3" cy="536.9" r="3.15" fill="#b8dcf2" stroke="#657985" stroke-width="0.85"/>
<circle cx="400.5" cy="486.4" r="3.15" fill="#b8dcf2" stroke="#657985" stroke-width="0.85"/>
<circle cx="402.8" cy="484.1" r="3.15" fill="#b8dcf2" stroke="#657985" stroke-width="0.85"/>
<circle cx="410.4" cy="484.1" r="3.15" fill="#b8dcf2" stroke="#657985" stroke-width="0.85"/>
<circle cx="413.5" cy="481.0" r="3.15" fill="#b8dcf2" stroke="#657985" stroke-width="0.85"/>
<circle cx="415.0" cy="488.7" r="3.15" fill="#b8dcf2" stroke="#657985" stroke-width="0.85"/>
<circle cx="410.4" cy="497.1" r="3.15" fill="#b8dcf2" stroke="#657985" stroke-width="0.85"/>
<circle cx="412.7" cy="503.2" r="3.15" fill="#b8dcf2" stroke="#657985" stroke-width="0.85"/>
<circle cx="419.6" cy="493.3" r="3.15" fill="#b8dcf2" stroke="#657985" stroke-width="0.85"/>
<circle cx="424.2" cy="497.9" r="3.15" fill="#b8dcf2" stroke="#657985" stroke-width="0.85"/>
<circle cx="427.2" cy="501.7" r="3.15" fill="#b8dcf2" stroke="#657985" stroke-width="0.85"/>
<circle cx="431.0" cy="504.7" r="3.15" fill="#b8dcf2" stroke="#657985" stroke-width="0.85"/>
<circle cx="435.6" cy="504.0" r="3.15" fill="#b8dcf2" stroke="#657985" stroke-width="0.85"/>
<circle cx="437.9" cy="507.0" r="3.15" fill="#b8dcf2" stroke="#657985" stroke-width="0.85"/>
<circle cx="442.5" cy="507.0" r="3.15" fill="#b8dcf2" stroke="#657985" stroke-width="0.85"/>
<circle cx="434.1" cy="495.6" r="3.15" fill="#b8dcf2" stroke="#657985" stroke-width="0.85"/>
<circle cx="429.5" cy="483.3" r="3.15" fill="#b8dcf2" stroke="#657985" stroke-width="0.85"/>
<circle cx="434.1" cy="485.6" r="3.15" fill="#b8dcf2" stroke="#657985" stroke-width="0.85"/>
<circle cx="436.4" cy="489.4" r="3.15" fill="#b8dcf2" stroke="#657985" stroke-width="0.85"/>
<circle cx="443.3" cy="490.2" r="3.15" fill="#b8dcf2" stroke="#657985" stroke-width="0.85"/>
<circle cx="429.5" cy="475.7" r="3.15" fill="#b8dcf2" stroke="#657985" stroke-width="0.85"/>
<circle cx="447.9" cy="479.5" r="3.15" fill="#b8dcf2" stroke="#657985" stroke-width="0.85"/>
<circle cx="448.6" cy="488.7" r="3.15" fill="#b8dcf2" stroke="#657985" stroke-width="0.85"/>
<circle cx="448.6" cy="500.9" r="3.15" fill="#b8dcf2" stroke="#657985" stroke-width="0.85"/>
<circle cx="411.9" cy="525.4" r="3.15" fill="#b8dcf2" stroke="#657985" stroke-width="0.85"/>
<circle cx="433.3" cy="521.6" r="3.15" fill="#b8dcf2" stroke="#657985" stroke-width="0.85"/>
<circle cx="437.9" cy="520.8" r="3.15" fill="#b8dcf2" stroke="#657985" stroke-width="0.85"/>
<circle cx="437.2" cy="530.0" r="3.15" fill="#b8dcf2" stroke="#657985" stroke-width="0.85"/>
<circle cx="398.9" cy="538.4" r="3.15" fill="#b8dcf2" stroke="#657985" stroke-width="0.85"/>
<circle cx="418.0" cy="536.9" r="3.15" fill="#b8dcf2" stroke="#657985" stroke-width="0.85"/>
<circle cx="374.6" cy="518.0" r="3.15" fill="#b8dcf2" stroke="#657985" stroke-width="0.85"/>
<circle cx="367.5" cy="526.8" r="3.15" fill="#b8dcf2" stroke="#657985" stroke-width="0.85"/>
<circle cx="387.7" cy="545.4" r="3.15" fill="#b8dcf2" stroke="#657985" stroke-width="0.85"/>
<circle cx="393.2" cy="547.5" r="3.15" fill="#b8dcf2" stroke="#657985" stroke-width="0.85"/>
<circle cx="401.9" cy="548.1" r="3.15" fill="#b8dcf2" stroke="#657985" stroke-width="0.85"/>
<circle cx="406.3" cy="549.2" r="3.15" fill="#b8dcf2" stroke="#657985" stroke-width="0.85"/>
<circle cx="404.6" cy="553.6" r="3.15" fill="#b8dcf2" stroke="#657985" stroke-width="0.85"/>
<circle cx="409.6" cy="553.6" r="3.15" fill="#b8dcf2" stroke="#657985" stroke-width="0.85"/>
<circle cx="400.8" cy="560.1" r="3.15" fill="#b8dcf2" stroke="#657985" stroke-width="0.85"/>
<circle cx="410.7" cy="559.6" r="3.15" fill="#b8dcf2" stroke="#657985" stroke-width="0.85"/>
<circle cx="417.8" cy="556.8" r="3.15" fill="#b8dcf2" stroke="#657985" stroke-width="0.85"/>
<circle cx="417.2" cy="561.7" r="3.15" fill="#b8dcf2" stroke="#657985" stroke-width="0.85"/>
<circle cx="399.7" cy="564.5" r="3.15" fill="#b8dcf2" stroke="#657985" stroke-width="0.85"/>
<circle cx="404.6" cy="565.0" r="3.15" fill="#b8dcf2" stroke="#657985" stroke-width="0.85"/>
<circle cx="407.9" cy="565.0" r="3.15" fill="#b8dcf2" stroke="#657985" stroke-width="0.85"/>
<circle cx="402.5" cy="568.3" r="3.15" fill="#b8dcf2" stroke="#657985" stroke-width="0.85"/>
<circle cx="414.5" cy="543.2" r="3.15" fill="#b8dcf2" stroke="#657985" stroke-width="0.85"/>
<circle cx="437.4" cy="544.8" r="3.15" fill="#b8dcf2" stroke="#657985" stroke-width="0.85"/>
<circle cx="443.4" cy="544.8" r="3.15" fill="#b8dcf2" stroke="#657985" stroke-width="0.85"/>
<circle cx="425.4" cy="564.5" r="3.15" fill="#b8dcf2" stroke="#657985" stroke-width="0.85"/>
<circle cx="422.7" cy="571.6" r="3.15" fill="#b8dcf2" stroke="#657985" stroke-width="0.85"/>
<circle cx="429.8" cy="562.8" r="3.15" fill="#b8dcf2" stroke="#657985" stroke-width="0.85"/>
<circle cx="434.2" cy="562.3" r="3.15" fill="#b8dcf2" stroke="#657985" stroke-width="0.85"/>
<circle cx="438.5" cy="564.5" r="3.15" fill="#b8dcf2" stroke="#657985" stroke-width="0.85"/>
<circle cx="440.7" cy="556.8" r="3.15" fill="#b8dcf2" stroke="#657985" stroke-width="0.85"/>
<circle cx="445.1" cy="560.1" r="3.15" fill="#b8dcf2" stroke="#657985" stroke-width="0.85"/>
<circle cx="447.8" cy="557.9" r="3.15" fill="#b8dcf2" stroke="#657985" stroke-width="0.85"/>
<circle cx="447.3" cy="563.4" r="3.15" fill="#b8dcf2" stroke="#657985" stroke-width="0.85"/>
<circle cx="442.3" cy="566.7" r="3.15" fill="#b8dcf2" stroke="#657985" stroke-width="0.85"/>
<circle cx="432.5" cy="568.9" r="3.15" fill="#b8dcf2" stroke="#657985" stroke-width="0.85"/>
<circle cx="439.6" cy="571.6" r="3.15" fill="#b8dcf2" stroke="#657985" stroke-width="0.85"/>
<circle cx="434.2" cy="574.3" r="3.15" fill="#b8dcf2" stroke="#657985" stroke-width="0.85"/>
<circle cx="438.5" cy="578.7" r="3.15" fill="#b8dcf2" stroke="#657985" stroke-width="0.85"/>
<circle cx="434.7" cy="579.8" r="3.15" fill="#b8dcf2" stroke="#657985" stroke-width="0.85"/>
<circle cx="479.7" cy="440.8" r="3.15" fill="#dec8f4" stroke="#7a6e86" stroke-width="0.85"/>
<circle cx="477.4" cy="446.1" r="3.15" fill="#dec8f4" stroke="#7a6e86" stroke-width="0.85"/>
<circle cx="480.5" cy="450.7" r="3.15" fill="#dec8f4" stroke="#7a6e86" stroke-width="0.85"/>
<circle cx="478.9" cy="455.3" r="3.15" fill="#dec8f4" stroke="#7a6e86" stroke-width="0.85"/>
<circle cx="475.9" cy="460.6" r="3.15" fill="#dec8f4" stroke="#7a6e86" stroke-width="0.85"/>
<circle cx="481.2" cy="459.1" r="3.15" fill="#dec8f4" stroke="#7a6e86" stroke-width="0.85"/>
<circle cx="485.8" cy="458.3" r="3.15" fill="#dec8f4" stroke="#7a6e86" stroke-width="0.85"/>
<circle cx="488.9" cy="456.8" r="3.15" fill="#dec8f4" stroke="#7a6e86" stroke-width="0.85"/>
<circle cx="483.5" cy="466.0" r="3.15" fill="#dec8f4" stroke="#7a6e86" stroke-width="0.85"/>
<circle cx="488.9" cy="467.5" r="3.15" fill="#dec8f4" stroke="#7a6e86" stroke-width="0.85"/>
<circle cx="492.7" cy="447.6" r="3.15" fill="#dec8f4" stroke="#7a6e86" stroke-width="0.85"/>
<circle cx="498.0" cy="446.9" r="3.15" fill="#dec8f4" stroke="#7a6e86" stroke-width="0.85"/>
<circle cx="508.7" cy="455.3" r="3.15" fill="#dec8f4" stroke="#7a6e86" stroke-width="0.85"/>
<circle cx="512.6" cy="456.1" r="3.15" fill="#dec8f4" stroke="#7a6e86" stroke-width="0.85"/>
<circle cx="515.6" cy="456.1" r="3.15" fill="#dec8f4" stroke="#7a6e86" stroke-width="0.85"/>
<circle cx="518.7" cy="447.6" r="3.15" fill="#dec8f4" stroke="#7a6e86" stroke-width="0.85"/>
<circle cx="521.7" cy="443.1" r="3.15" fill="#dec8f4" stroke="#7a6e86" stroke-width="0.85"/>
<circle cx="514.9" cy="440.8" r="3.15" fill="#dec8f4" stroke="#7a6e86" stroke-width="0.85"/>
<circle cx="481.2" cy="472.9" r="3.15" fill="#dec8f4" stroke="#7a6e86" stroke-width="0.85"/>
<circle cx="477.4" cy="479.0" r="3.15" fill="#dec8f4" stroke="#7a6e86" stroke-width="0.85"/>
<circle cx="483.5" cy="480.5" r="3.15" fill="#dec8f4" stroke="#7a6e86" stroke-width="0.85"/>
<circle cx="465.9" cy="475.2" r="3.15" fill="#dec8f4" stroke="#7a6e86" stroke-width="0.85"/>
<circle cx="464.4" cy="479.8" r="3.15" fill="#dec8f4" stroke="#7a6e86" stroke-width="0.85"/>
<circle cx="459.8" cy="482.0" r="3.15" fill="#dec8f4" stroke="#7a6e86" stroke-width="0.85"/>
<circle cx="456.8" cy="485.1" r="3.15" fill="#dec8f4" stroke="#7a6e86" stroke-width="0.85"/>
<circle cx="463.6" cy="490.5" r="3.15" fill="#dec8f4" stroke="#7a6e86" stroke-width="0.85"/>
<circle cx="459.8" cy="494.3" r="3.15" fill="#dec8f4" stroke="#7a6e86" stroke-width="0.85"/>
<circle cx="457.5" cy="496.6" r="3.15" fill="#dec8f4" stroke="#7a6e86" stroke-width="0.85"/>
<circle cx="455.2" cy="500.4" r="3.15" fill="#dec8f4" stroke="#7a6e86" stroke-width="0.85"/>
<circle cx="463.6" cy="506.5" r="3.15" fill="#dec8f4" stroke="#7a6e86" stroke-width="0.85"/>
<circle cx="500.3" cy="468.3" r="3.15" fill="#dec8f4" stroke="#7a6e86" stroke-width="0.85"/>
<circle cx="506.5" cy="470.6" r="3.15" fill="#dec8f4" stroke="#7a6e86" stroke-width="0.85"/>
<circle cx="501.9" cy="475.2" r="3.15" fill="#dec8f4" stroke="#7a6e86" stroke-width="0.85"/>
<circle cx="499.6" cy="479.8" r="3.15" fill="#dec8f4" stroke="#7a6e86" stroke-width="0.85"/>
<circle cx="503.4" cy="480.5" r="3.15" fill="#dec8f4" stroke="#7a6e86" stroke-width="0.85"/>
<circle cx="508.0" cy="484.3" r="3.15" fill="#dec8f4" stroke="#7a6e86" stroke-width="0.85"/>
<circle cx="498.0" cy="485.1" r="3.15" fill="#dec8f4" stroke="#7a6e86" stroke-width="0.85"/>
<circle cx="491.9" cy="488.2" r="3.15" fill="#dec8f4" stroke="#7a6e86" stroke-width="0.85"/>
<circle cx="495.7" cy="491.2" r="3.15" fill="#dec8f4" stroke="#7a6e86" stroke-width="0.85"/>
<circle cx="502.6" cy="488.9" r="3.15" fill="#dec8f4" stroke="#7a6e86" stroke-width="0.85"/>
<circle cx="501.1" cy="495.0" r="3.15" fill="#dec8f4" stroke="#7a6e86" stroke-width="0.85"/>
<circle cx="478.2" cy="494.3" r="3.15" fill="#dec8f4" stroke="#7a6e86" stroke-width="0.85"/>
<circle cx="484.3" cy="499.6" r="3.15" fill="#dec8f4" stroke="#7a6e86" stroke-width="0.85"/>
<circle cx="479.7" cy="505.0" r="3.15" fill="#dec8f4" stroke="#7a6e86" stroke-width="0.85"/>
<circle cx="485.8" cy="508.0" r="3.15" fill="#dec8f4" stroke="#7a6e86" stroke-width="0.85"/>
<circle cx="493.5" cy="504.2" r="3.15" fill="#dec8f4" stroke="#7a6e86" stroke-width="0.85"/>
<circle cx="489.6" cy="513.4" r="3.15" fill="#dec8f4" stroke="#7a6e86" stroke-width="0.85"/>
<circle cx="472.8" cy="515.7" r="3.15" fill="#dec8f4" stroke="#7a6e86" stroke-width="0.85"/>
<circle cx="475.9" cy="515.7" r="3.15" fill="#dec8f4" stroke="#7a6e86" stroke-width="0.85"/>
<circle cx="482.0" cy="516.5" r="3.15" fill="#dec8f4" stroke="#7a6e86" stroke-width="0.85"/>
<circle cx="477.4" cy="521.0" r="3.15" fill="#dec8f4" stroke="#7a6e86" stroke-width="0.85"/>
<circle cx="483.5" cy="524.9" r="3.15" fill="#dec8f4" stroke="#7a6e86" stroke-width="0.85"/>
<circle cx="475.9" cy="528.7" r="3.15" fill="#dec8f4" stroke="#7a6e86" stroke-width="0.85"/>
<circle cx="471.3" cy="531.7" r="3.15" fill="#dec8f4" stroke="#7a6e86" stroke-width="0.85"/>
<circle cx="478.2" cy="533.3" r="3.15" fill="#dec8f4" stroke="#7a6e86" stroke-width="0.85"/>
<circle cx="469.0" cy="537.1" r="3.15" fill="#dec8f4" stroke="#7a6e86" stroke-width="0.85"/>
<circle cx="460.6" cy="544.0" r="3.15" fill="#dec8f4" stroke="#7a6e86" stroke-width="0.85"/>
<circle cx="465.9" cy="544.7" r="3.15" fill="#dec8f4" stroke="#7a6e86" stroke-width="0.85"/>
<circle cx="459.1" cy="547.8" r="3.15" fill="#dec8f4" stroke="#7a6e86" stroke-width="0.85"/>
<circle cx="462.9" cy="550.9" r="3.15" fill="#dec8f4" stroke="#7a6e86" stroke-width="0.85"/>
<circle cx="451.4" cy="500.4" r="3.15" fill="#b8dcf2" stroke="#657985" stroke-width="0.85"/>
<circle cx="452.2" cy="508.8" r="3.15" fill="#b8dcf2" stroke="#657985" stroke-width="0.85"/>
<circle cx="534.2" cy="305.4" r="3.15" fill="#f9c898" stroke="#886e53" stroke-width="0.85"/>
<circle cx="538.0" cy="303.1" r="3.15" fill="#f9c898" stroke="#886e53" stroke-width="0.85"/>
<circle cx="544.2" cy="303.8" r="3.15" fill="#f9c898" stroke="#886e53" stroke-width="0.85"/>
<circle cx="541.9" cy="311.5" r="3.15" fill="#f9c898" stroke="#886e53" stroke-width="0.85"/>
<circle cx="535.7" cy="316.1" r="3.15" fill="#f9c898" stroke="#886e53" stroke-width="0.85"/>
<circle cx="535.0" cy="329.8" r="3.15" fill="#f9c898" stroke="#886e53" stroke-width="0.85"/>
<circle cx="535.7" cy="335.9" r="3.15" fill="#f9c898" stroke="#886e53" stroke-width="0.85"/>
<circle cx="533.5" cy="339.8" r="3.15" fill="#f9c898" stroke="#886e53" stroke-width="0.85"/>
<circle cx="527.3" cy="344.3" r="3.15" fill="#dec8f4" stroke="#7a6e86" stroke-width="0.85"/>
<circle cx="529.6" cy="348.2" r="3.15" fill="#dec8f4" stroke="#7a6e86" stroke-width="0.85"/>
<circle cx="525.0" cy="353.5" r="3.15" fill="#dec8f4" stroke="#7a6e86" stroke-width="0.85"/>
<circle cx="522.8" cy="360.4" r="3.15" fill="#dec8f4" stroke="#7a6e86" stroke-width="0.85"/>
<circle cx="528.1" cy="358.9" r="3.15" fill="#dec8f4" stroke="#7a6e86" stroke-width="0.85"/>
<circle cx="519.7" cy="368.8" r="3.15" fill="#dec8f4" stroke="#7a6e86" stroke-width="0.85"/>
<circle cx="525.0" cy="368.0" r="3.15" fill="#dec8f4" stroke="#7a6e86" stroke-width="0.85"/>
<circle cx="515.1" cy="376.5" r="3.15" fill="#dec8f4" stroke="#7a6e86" stroke-width="0.85"/>
<circle cx="518.9" cy="382.6" r="3.15" fill="#dec8f4" stroke="#7a6e86" stroke-width="0.85"/>
<circle cx="523.5" cy="384.9" r="3.15" fill="#dec8f4" stroke="#7a6e86" stroke-width="0.85"/>
<circle cx="516.6" cy="387.2" r="3.15" fill="#dec8f4" stroke="#7a6e86" stroke-width="0.85"/>
<circle cx="528.1" cy="388.7" r="3.15" fill="#dec8f4" stroke="#7a6e86" stroke-width="0.85"/>
<circle cx="513.6" cy="393.3" r="3.15" fill="#dec8f4" stroke="#7a6e86" stroke-width="0.85"/>
<circle cx="510.5" cy="404.7" r="3.15" fill="#dec8f4" stroke="#7a6e86" stroke-width="0.85"/>
<circle cx="519.7" cy="404.0" r="3.15" fill="#dec8f4" stroke="#7a6e86" stroke-width="0.85"/>
<circle cx="530.4" cy="400.9" r="3.15" fill="#dec8f4" stroke="#7a6e86" stroke-width="0.85"/>
<circle cx="520.5" cy="410.1" r="3.15" fill="#dec8f4" stroke="#7a6e86" stroke-width="0.85"/>
<circle cx="525.8" cy="410.1" r="3.15" fill="#dec8f4" stroke="#7a6e86" stroke-width="0.85"/>
<circle cx="531.9" cy="410.1" r="3.15" fill="#dec8f4" stroke="#7a6e86" stroke-width="0.85"/>
<circle cx="520.5" cy="413.9" r="3.15" fill="#dec8f4" stroke="#7a6e86" stroke-width="0.85"/>
<circle cx="525.0" cy="417.7" r="3.15" fill="#dec8f4" stroke="#7a6e86" stroke-width="0.85"/>
<circle cx="528.9" cy="417.7" r="3.15" fill="#dec8f4" stroke="#7a6e86" stroke-width="0.85"/>
<circle cx="531.9" cy="417.0" r="3.15" fill="#dec8f4" stroke="#7a6e86" stroke-width="0.85"/>
<circle cx="524.3" cy="422.3" r="3.15" fill="#dec8f4" stroke="#7a6e86" stroke-width="0.85"/>
<circle cx="515.9" cy="422.3" r="3.15" fill="#dec8f4" stroke="#7a6e86" stroke-width="0.85"/>
<circle cx="505.9" cy="413.9" r="3.15" fill="#dec8f4" stroke="#7a6e86" stroke-width="0.85"/>
<circle cx="500.6" cy="418.5" r="3.15" fill="#dec8f4" stroke="#7a6e86" stroke-width="0.85"/>
<circle cx="505.2" cy="421.6" r="3.15" fill="#dec8f4" stroke="#7a6e86" stroke-width="0.85"/>
<circle cx="502.9" cy="424.6" r="3.15" fill="#dec8f4" stroke="#7a6e86" stroke-width="0.85"/>
<circle cx="500.6" cy="432.3" r="3.15" fill="#dec8f4" stroke="#7a6e86" stroke-width="0.85"/>
<circle cx="522.8" cy="426.9" r="3.15" fill="#dec8f4" stroke="#7a6e86" stroke-width="0.85"/>
<circle cx="521.2" cy="432.3" r="3.15" fill="#dec8f4" stroke="#7a6e86" stroke-width="0.85"/>
<circle cx="525.0" cy="433.0" r="3.15" fill="#dec8f4" stroke="#7a6e86" stroke-width="0.85"/>
<circle cx="528.9" cy="433.8" r="3.15" fill="#dec8f4" stroke="#7a6e86" stroke-width="0.85"/>
<circle cx="514.3" cy="438.4" r="3.15" fill="#dec8f4" stroke="#7a6e86" stroke-width="0.85"/>
<circle cx="479.2" cy="438.4" r="3.15" fill="#dec8f4" stroke="#7a6e86" stroke-width="0.85"/>
<circle cx="558.0" cy="215.3" r="3.15" fill="#f9c898" stroke="#886e53" stroke-width="0.85"/>
<circle cx="553.5" cy="217.6" r="3.15" fill="#f9c898" stroke="#886e53" stroke-width="0.85"/>
<circle cx="556.5" cy="222.9" r="3.15" fill="#f9c898" stroke="#886e53" stroke-width="0.85"/>
<circle cx="557.3" cy="226.0" r="3.15" fill="#f9c898" stroke="#886e53" stroke-width="0.85"/>
<circle cx="549.6" cy="226.8" r="3.15" fill="#f9c898" stroke="#886e53" stroke-width="0.85"/>
<circle cx="553.5" cy="232.1" r="3.15" fill="#f9c898" stroke="#886e53" stroke-width="0.85"/>
<circle cx="554.2" cy="236.7" r="3.15" fill="#f9c898" stroke="#886e53" stroke-width="0.85"/>
<circle cx="549.6" cy="239.0" r="3.15" fill="#f9c898" stroke="#886e53" stroke-width="0.85"/>
<circle cx="550.4" cy="242.8" r="3.15" fill="#f9c898" stroke="#886e53" stroke-width="0.85"/>
<circle cx="546.6" cy="246.6" r="3.15" fill="#f9c898" stroke="#886e53" stroke-width="0.85"/>
<circle cx="551.9" cy="248.2" r="3.15" fill="#f9c898" stroke="#886e53" stroke-width="0.85"/>
<circle cx="545.0" cy="252.0" r="3.15" fill="#f9c898" stroke="#886e53" stroke-width="0.85"/>
<circle cx="550.4" cy="254.3" r="3.15" fill="#f9c898" stroke="#886e53" stroke-width="0.85"/>
<circle cx="545.8" cy="257.3" r="3.15" fill="#f9c898" stroke="#886e53" stroke-width="0.85"/>
<circle cx="543.5" cy="261.9" r="3.15" fill="#f9c898" stroke="#886e53" stroke-width="0.85"/>
<circle cx="548.9" cy="262.7" r="3.15" fill="#f9c898" stroke="#886e53" stroke-width="0.85"/>
<circle cx="544.3" cy="268.0" r="3.15" fill="#f9c898" stroke="#886e53" stroke-width="0.85"/>
<circle cx="548.1" cy="271.1" r="3.15" fill="#f9c898" stroke="#886e53" stroke-width="0.85"/>
<circle cx="538.9" cy="271.9" r="3.15" fill="#f9c898" stroke="#886e53" stroke-width="0.85"/>
<circle cx="547.3" cy="274.2" r="3.15" fill="#f9c898" stroke="#886e53" stroke-width="0.85"/>
<circle cx="542.8" cy="278.7" r="3.15" fill="#f9c898" stroke="#886e53" stroke-width="0.85"/>
<circle cx="547.3" cy="280.3" r="3.15" fill="#f9c898" stroke="#886e53" stroke-width="0.85"/>
<circle cx="540.5" cy="281.0" r="3.15" fill="#f9c898" stroke="#886e53" stroke-width="0.85"/>
<circle cx="537.4" cy="284.9" r="3.15" fill="#f9c898" stroke="#886e53" stroke-width="0.85"/>
<circle cx="544.3" cy="287.2" r="3.15" fill="#f9c898" stroke="#886e53" stroke-width="0.85"/>
<circle cx="536.6" cy="290.2" r="3.15" fill="#f9c898" stroke="#886e53" stroke-width="0.85"/>
<circle cx="542.0" cy="292.5" r="3.15" fill="#f9c898" stroke="#886e53" stroke-width="0.85"/>
<circle cx="538.2" cy="296.3" r="3.15" fill="#f9c898" stroke="#886e53" stroke-width="0.85"/>
<circle cx="542.8" cy="299.4" r="3.15" fill="#f9c898" stroke="#886e53" stroke-width="0.85"/>
<circle cx="101.2" cy="348.3" r="3.15" fill="#f5aca2" stroke="#865e59" stroke-width="0.85"/>
<circle cx="99.6" cy="369.7" r="3.15" fill="#f5aca2" stroke="#865e59" stroke-width="0.85"/>
<circle cx="100.4" cy="378.1" r="3.15" fill="#f5aca2" stroke="#865e59" stroke-width="0.85"/>
<circle cx="107.3" cy="377.3" r="3.15" fill="#f5aca2" stroke="#865e59" stroke-width="0.85"/>
<circle cx="90.5" cy="457.6" r="3.15" fill="#f5aca2" stroke="#865e59" stroke-width="0.85"/>
<circle cx="86.6" cy="458.4" r="3.15" fill="#f5aca2" stroke="#865e59" stroke-width="0.85"/>
<circle cx="134.0" cy="440.0" r="3.15" fill="#f5aca2" stroke="#865e59" stroke-width="0.85"/>
<line x1="885.3" y1="298.5" x2="825.9" y2="323.2" stroke="#9c9ca6" stroke-width="1"/>
<polyline points="827.9,321.0 825.9,323.2 828.9,323.4" fill="none" stroke="#9c9ca6" stroke-width="0.8"/>
<line x1="959.6" y1="298.5" x2="1019.7" y2="323.7" stroke="#9c9ca6" stroke-width="1"/>
<polyline points="1016.7,323.8 1019.7,323.7 1017.7,321.4" fill="none" stroke="#9c9ca6" stroke-width="0.8"/>
<line x1="763.2" y1="354.5" x2="724.8" y2="378.5" stroke="#9c9ca6" stroke-width="1"/>
<polyline points="726.4,376.0 724.8,378.5 727.7,378.2" fill="none" stroke="#9c9ca6" stroke-width="0.8"/>
<line x1="813.0" y1="354.5" x2="851.8" y2="378.5" stroke="#9c9ca6" stroke-width="1"/>
<polyline points="848.8,378.2 851.8,378.5 850.2,376.0" fill="none" stroke="#9c9ca6" stroke-width="0.8"/>
<line x1="1043.9" y1="354.5" x2="1022.0" y2="381.6" stroke="#9c9ca6" stroke-width="1"/>
<polyline points="1022.7,378.7 1022.0,381.6 1024.7,380.3" fill="none" stroke="#9c9ca6" stroke-width="0.8"/>
<line x1="1068.9" y1="354.5" x2="1088.4" y2="378.7" stroke="#9c9ca6" stroke-width="1"/>
<polyline points="1085.7,377.4 1088.4,378.7 1087.7,375.8" fill="none" stroke="#9c9ca6" stroke-width="0.8"/>
<line x1="686.4" y1="410.2" x2="664.7" y2="437.0" stroke="#9c9ca6" stroke-width="1"/>
<polyline points="665.4,434.1 664.7,437.0 667.4,435.7" fill="none" stroke="#9c9ca6" stroke-width="0.8"/>
<line x1="711.8" y1="410.2" x2="733.3" y2="437.0" stroke="#9c9ca6" stroke-width="1"/>
<polyline points="730.6,435.7 733.3,437.0 732.6,434.1" fill="none" stroke="#9c9ca6" stroke-width="0.8"/>
<line x1="864.9" y1="410.2" x2="843.2" y2="437.0" stroke="#9c9ca6" stroke-width="1"/>
<polyline points="843.9,434.1 843.2,437.0 845.9,435.7" fill="none" stroke="#9c9ca6" stroke-width="0.8"/>
<line x1="890.3" y1="410.2" x2="911.8" y2="436.8" stroke="#9c9ca6" stroke-width="1"/>
<polyline points="909.1,435.5 911.8,436.8 911.1,433.9" fill="none" stroke="#9c9ca6" stroke-width="0.8"/>
<line x1="1076.0" y1="409.9" x2="1037.1" y2="433.9" stroke="#9c9ca6" stroke-width="1"/>
<polyline points="1038.7,431.4 1037.1,433.9 1040.1,433.6" fill="none" stroke="#9c9ca6" stroke-width="0.8"/>
<line x1="1126.1" y1="409.9" x2="1165.1" y2="433.9" stroke="#9c9ca6" stroke-width="1"/>
<polyline points="1162.2,433.6 1165.1,433.9 1163.5,431.4" fill="none" stroke="#9c9ca6" stroke-width="0.8"/>
<line x1="999.6" y1="464.7" x2="977.7" y2="492.0" stroke="#9c9ca6" stroke-width="1"/>
<polyline points="978.3,489.1 977.7,492.0 980.4,490.7" fill="none" stroke="#9c9ca6" stroke-width="0.8"/>
<line x1="1024.0" y1="464.7" x2="1043.3" y2="488.8" stroke="#9c9ca6" stroke-width="1"/>
<polyline points="1040.6,487.5 1043.3,488.8 1042.6,485.9" fill="none" stroke="#9c9ca6" stroke-width="0.8"/>
<line x1="1178.1" y1="464.7" x2="1156.2" y2="492.0" stroke="#9c9ca6" stroke-width="1"/>
<polyline points="1156.8,489.1 1156.2,492.0 1158.9,490.7" fill="none" stroke="#9c9ca6" stroke-width="0.8"/>
<line x1="1202.6" y1="464.7" x2="1224.6" y2="492.0" stroke="#9c9ca6" stroke-width="1"/>
<polyline points="1221.8,490.7 1224.6,492.0 1223.9,489.1" fill="none" stroke="#9c9ca6" stroke-width="0.8"/>
<line x1="1043.6" y1="520.2" x2="1022.0" y2="547.4" stroke="#9c9ca6" stroke-width="1"/>
<polyline points="1022.6,544.5 1022.0,547.4 1024.7,546.1" fill="none" stroke="#9c9ca6" stroke-width="0.8"/>
<line x1="1068.6" y1="520.2" x2="1090.8" y2="547.4" stroke="#9c9ca6" stroke-width="1"/>
<polyline points="1088.1,546.1 1090.8,547.4 1090.1,544.5" fill="none" stroke="#9c9ca6" stroke-width="0.8"/>
<rect x="881.0" y="268.0" width="83.0" height="30.0" fill="#cff6b6" stroke="#6a6a78" stroke-width="1.0"/>
<text x="922.5" y="274.2" font-family="Liberation Sans" font-size="5.9" text-anchor="middle" fill="#0a0a0a" opacity="0.9">turbine_model_uni &lt;= 1.5</text>
<text x="922.5" y="279.5" font-family="Liberation Sans" font-size="5.9" text-anchor="middle" fill="#0a0a0a" opacity="0.9">gini = 0.561</text>
<text x="922.5" y="284.8" font-family="Liberation Sans" font-size="5.9" text-anchor="middle" fill="#0a0a0a" opacity="0.9">samples = 1258</text>
<text x="922.5" y="290.1" font-family="Liberation Sans" font-size="5.9" text-anchor="middle" fill="#0a0a0a" opacity="0.9">value = [389, 707, 28, 30, 104]</text>
<text x="922.5" y="295.4" font-family="Liberation Sans" font-size="5.9" text-anchor="middle" fill="#0a0a0a" opacity="0.9">class = 1</text>
<rect x="749.0" y="324.0" width="78.0" height="30.0" fill="#98eb64" stroke="#6a6a78" stroke-width="1.0"/>
<text x="788.0" y="330.2" font-family="Liberation Sans" font-size="5.9" text-anchor="middle" fill="#0a0a0a" opacity="0.9">owner_percent_max &lt;= 0.8</text>
<text x="788.0" y="335.5" font-family="Liberation Sans" font-size="5.9" text-anchor="middle" fill="#0a0a0a" opacity="0.9">gini = 0.329</text>
<text x="788.0" y="340.8" font-family="Liberation Sans" font-size="5.9" text-anchor="middle" fill="#0a0a0a" opacity="0.9">samples = 874</text>
<text x="788.0" y="346.1" font-family="Liberation Sans" font-size="5.9" text-anchor="middle" fill="#0a0a0a" opacity="0.9">value = [33, 707, 0, 30, 104]</text>
<text x="788.0" y="351.4" font-family="Liberation Sans" font-size="5.9" text-anchor="middle" fill="#0a0a0a" opacity="0.9">class = 1</text>
<rect x="1020.5" y="324.0" width="71.8" height="30.0" fill="#e78949" stroke="#6a6a78" stroke-width="1.0"/>
<text x="1056.4" y="330.2" font-family="Liberation Sans" font-size="5.9" text-anchor="middle" fill="#0a0a0a" opacity="0.9">turbine_manuf_uni &lt;= 2.5</text>
<text x="1056.4" y="335.5" font-family="Liberation Sans" font-size="5.9" text-anchor="middle" fill="#0a0a0a" opacity="0.9">gini = 0.135</text>
<text x="1056.4" y="340.8" font-family="Liberation Sans" font-size="5.9" text-anchor="middle" fill="#0a0a0a" opacity="0.9">samples = 384</text>
<text x="1056.4" y="346.1" font-family="Liberation Sans" font-size="5.9" text-anchor="middle" fill="#0a0a0a" opacity="0.9">value = [356, 0, 28, 0, 0]</text>
<text x="1056.4" y="351.4" font-family="Liberation Sans" font-size="5.9" text-anchor="middle" fill="#0a0a0a" opacity="0.9">class = 0</text>
<rect x="665.5" y="379.3" width="67.3" height="30.4" fill="#81e642" stroke="#6a6a78" stroke-width="1.0"/>
<text x="699.1" y="385.7" font-family="Liberation Sans" font-size="5.9" text-anchor="middle" fill="#0a0a0a" opacity="0.9">generator_id_uni &lt;= 1.5</text>
<text x="699.1" y="391.0" font-family="Liberation Sans" font-size="5.9" text-anchor="middle" fill="#0a0a0a" opacity="0.9">gini = 0.085</text>
<text x="699.1" y="396.3" font-family="Liberation Sans" font-size="5.9" text-anchor="middle" fill="#0a0a0a" opacity="0.9">samples = 740</text>
<text x="699.1" y="401.6" font-family="Liberation Sans" font-size="5.9" text-anchor="middle" fill="#0a0a0a" opacity="0.9">value = [33, 707, 0, 0, 0]</text>
<text x="699.1" y="406.9" font-family="Liberation Sans" font-size="5.9" text-anchor="middle" fill="#0a0a0a" opacity="0.9">class = 1</text>
<rect x="843.7" y="379.3" width="67.9" height="30.4" fill="#ef7ddb" stroke="#6a6a78" stroke-width="1.0"/>
<text x="877.7" y="385.7" font-family="Liberation Sans" font-size="5.9" text-anchor="middle" fill="#0a0a0a" opacity="0.9">generator_id_uni &lt;= 1.5</text>
<text x="877.7" y="391.0" font-family="Liberation Sans" font-size="5.9" text-anchor="middle" fill="#0a0a0a" opacity="0.9">gini = 0.348</text>
<text x="877.7" y="396.3" font-family="Liberation Sans" font-size="5.9" text-anchor="middle" fill="#0a0a0a" opacity="0.9">samples = 134</text>
<text x="877.7" y="401.6" font-family="Liberation Sans" font-size="5.9" text-anchor="middle" fill="#0a0a0a" opacity="0.9">value = [0, 0, 0, 30, 104]</text>
<text x="877.7" y="406.9" font-family="Liberation Sans" font-size="5.9" text-anchor="middle" fill="#0a0a0a" opacity="0.9">class = 4</text>
<rect x="979.4" y="382.4" width="64.4" height="24.1" fill="#e58139" stroke="#6a6a78" stroke-width="1.0"/>
<text x="1011.6" y="388.3" font-family="Liberation Sans" font-size="5.9" text-anchor="middle" fill="#0a0a0a" opacity="0.9">gini = 0.0</text>
<text x="1011.6" y="393.6" font-family="Liberation Sans" font-size="5.9" text-anchor="middle" fill="#0a0a0a" opacity="0.9">samples = 346</text>
<text x="1011.6" y="398.9" font-family="Liberation Sans" font-size="5.9" text-anchor="middle" fill="#0a0a0a" opacity="0.9">value = [346, 0, 0, 0, 0]</text>
<text x="1011.6" y="404.2" font-family="Liberation Sans" font-size="5.9" text-anchor="middle" fill="#0a0a0a" opacity="0.9">class = 0</text>
<rect x="1059.6" y="379.5" width="82.9" height="29.9" fill="#85eedb" stroke="#6a6a78" stroke-width="1.0"/>
<text x="1101.0" y="385.6" font-family="Liberation Sans" font-size="5.9" text-anchor="middle" fill="#0a0a0a" opacity="0.9">number_turbines_sum &lt;= 20.0</text>
<text x="1101.0" y="390.9" font-family="Liberation Sans" font-size="5.9" text-anchor="middle" fill="#0a0a0a" opacity="0.9">gini = 0.388</text>
<text x="1101.0" y="396.2" font-family="Liberation Sans" font-size="5.9" text-anchor="middle" fill="#0a0a0a" opacity="0.9">samples = 38</text>
<text x="1101.0" y="401.5" font-family="Liberation Sans" font-size="5.9" text-anchor="middle" fill="#0a0a0a" opacity="0.9">value = [10, 0, 28, 0, 0]</text>
<text x="1101.0" y="406.8" font-family="Liberation Sans" font-size="5.9" text-anchor="middle" fill="#0a0a0a" opacity="0.9">class = 2</text>
<rect x="621.9" y="437.8" width="64.9" height="24.0" fill="#7be539" stroke="#6a6a78" stroke-width="1.0"/>
<text x="654.3" y="443.7" font-family="Liberation Sans" font-size="5.9" text-anchor="middle" fill="#0a0a0a" opacity="0.9">gini = 0.0</text>
<text x="654.3" y="449.0" font-family="Liberation Sans" font-size="5.9" text-anchor="middle" fill="#0a0a0a" opacity="0.9">samples = 707</text>
<text x="654.3" y="454.3" font-family="Liberation Sans" font-size="5.9" text-anchor="middle" fill="#0a0a0a" opacity="0.9">value = [0, 707, 0, 0, 0]</text>
<text x="654.3" y="459.6" font-family="Liberation Sans" font-size="5.9" text-anchor="middle" fill="#0a0a0a" opacity="0.9">class = 1</text>
<rect x="713.0" y="437.8" width="61.2" height="24.0" fill="#e58139" stroke="#6a6a78" stroke-width="1.0"/>
<text x="743.6" y="443.7" font-family="Liberation Sans" font-size="5.9" text-anchor="middle" fill="#0a0a0a" opacity="0.9">gini = 0.0</text>
<text x="743.6" y="449.0" font-family="Liberation Sans" font-size="5.9" text-anchor="middle" fill="#0a0a0a" opacity="0.9">samples = 33</text>
<text x="743.6" y="454.3" font-family="Liberation Sans" font-size="5.9" text-anchor="middle" fill="#0a0a0a" opacity="0.9">value = [33, 0, 0, 0, 0]</text>
<text x="743.6" y="459.6" font-family="Liberation Sans" font-size="5.9" text-anchor="middle" fill="#0a0a0a" opacity="0.9">class = 0</text>
<rect x="800.4" y="437.8" width="64.9" height="24.0" fill="#e539c0" stroke="#6a6a78" stroke-width="1.0"/>
<text x="832.8" y="443.7" font-family="Liberation Sans" font-size="5.9" text-anchor="middle" fill="#0a0a0a" opacity="0.9">gini = 0.0</text>
<text x="832.8" y="449.0" font-family="Liberation Sans" font-size="5.9" text-anchor="middle" fill="#0a0a0a" opacity="0.9">samples = 104</text>
<text x="832.8" y="454.3" font-family="Liberation Sans" font-size="5.9" text-anchor="middle" fill="#0a0a0a" opacity="0.9">value = [0, 0, 0, 0, 104]</text>
<text x="832.8" y="459.6" font-family="Liberation Sans" font-size="5.9" text-anchor="middle" fill="#0a0a0a" opacity="0.9">class = 4</text>
<rect x="891.7" y="437.6" width="61.1" height="24.3" fill="#3c39e5" stroke="#6a6a78" stroke-width="1.0"/>
<text x="922.2" y="443.6" font-family="Liberation Sans" font-size="5.9" text-anchor="middle" fill="#0a0a0a" opacity="0.9">gini = 0.0</text>
<text x="922.2" y="448.9" font-family="Liberation Sans" font-size="5.9" text-anchor="middle" fill="#0a0a0a" opacity="0.9">samples = 30</text>
<text x="922.2" y="454.2" font-family="Liberation Sans" font-size="5.9" text-anchor="middle" fill="#0a0a0a" opacity="0.9">value = [0, 0, 0, 30, 0]</text>
<text x="922.2" y="459.5" font-family="Liberation Sans" font-size="5.9" text-anchor="middle" fill="#0a0a0a" opacity="0.9">class = 3</text>
<rect x="976.9" y="434.7" width="69.9" height="29.5" fill="#eea26c" stroke="#6a6a78" stroke-width="1.0"/>
<text x="1011.8" y="440.6" font-family="Liberation Sans" font-size="5.9" text-anchor="middle" fill="#0a0a0a" opacity="0.9">turbine_model_uni &lt;= 2.5</text>
<text x="1011.8" y="445.9" font-family="Liberation Sans" font-size="5.9" text-anchor="middle" fill="#0a0a0a" opacity="0.9">gini = 0.298</text>
<text x="1011.8" y="451.2" font-family="Liberation Sans" font-size="5.9" text-anchor="middle" fill="#0a0a0a" opacity="0.9">samples = 11</text>
<text x="1011.8" y="456.5" font-family="Liberation Sans" font-size="5.9" text-anchor="middle" fill="#0a0a0a" opacity="0.9">value = [9, 0, 2, 0, 0]</text>
<text x="1011.8" y="461.8" font-family="Liberation Sans" font-size="5.9" text-anchor="middle" fill="#0a0a0a" opacity="0.9">class = 0</text>
<rect x="1144.8" y="434.7" width="91.2" height="29.5" fill="#41e6c7" stroke="#6a6a78" stroke-width="1.0"/>
<text x="1190.4" y="440.6" font-family="Liberation Sans" font-size="5.9" text-anchor="middle" fill="#0a0a0a" opacity="0.9">nameplate_capacity_sum &lt;= 22.5</text>
<text x="1190.4" y="445.9" font-family="Liberation Sans" font-size="5.9" text-anchor="middle" fill="#0a0a0a" opacity="0.9">gini = 0.071</text>
<text x="1190.4" y="451.2" font-family="Liberation Sans" font-size="5.9" text-anchor="middle" fill="#0a0a0a" opacity="0.9">samples = 27</text>
<text x="1190.4" y="456.5" font-family="Liberation Sans" font-size="5.9" text-anchor="middle" fill="#0a0a0a" opacity="0.9">value = [1, 0, 26, 0, 0]</text>
<text x="1190.4" y="461.8" font-family="Liberation Sans" font-size="5.9" text-anchor="middle" fill="#0a0a0a" opacity="0.9">class = 2</text>
<rect x="938.1" y="492.8" width="57.9" height="24.8" fill="#e58139" stroke="#6a6a78" stroke-width="1.0"/>
<text x="967.0" y="499.1" font-family="Liberation Sans" font-size="5.9" text-anchor="middle" fill="#0a0a0a" opacity="0.9">gini = 0.0</text>
<text x="967.0" y="504.4" font-family="Liberation Sans" font-size="5.9" text-anchor="middle" fill="#0a0a0a" opacity="0.9">samples = 7</text>
<text x="967.0" y="509.7" font-family="Liberation Sans" font-size="5.9" text-anchor="middle" fill="#0a0a0a" opacity="0.9">value = [7, 0, 0, 0, 0]</text>
<text x="967.0" y="515.0" font-family="Liberation Sans" font-size="5.9" text-anchor="middle" fill="#0a0a0a" opacity="0.9">class = 0</text>
<rect x="1018.6" y="489.6" width="74.7" height="30.1" fill="#15143e" stroke="#c8c8d0" stroke-width="1.3"/>
<text x="1056.0" y="495.9" font-family="Liberation Sans" font-size="5.9" text-anchor="middle" fill="#d8d8e0" opacity="0.9">owner_percent_max &lt;= 0.7</text>
<text x="1056.0" y="501.2" font-family="Liberation Sans" font-size="5.9" text-anchor="middle" fill="#d8d8e0" opacity="0.9">gini = 0.5</text>
<text x="1056.0" y="506.5" font-family="Liberation Sans" font-size="5.9" text-anchor="middle" fill="#d8d8e0" opacity="0.9">samples = 4</text>
<text x="1056.0" y="511.8" font-family="Liberation Sans" font-size="5.9" text-anchor="middle" fill="#d8d8e0" opacity="0.9">value = [2, 0, 2, 0, 0]</text>
<text x="1056.0" y="517.1" font-family="Liberation Sans" font-size="5.9" text-anchor="middle" fill="#d8d8e0" opacity="0.9">class = 0</text>
<rect x="1116.6" y="492.8" width="57.9" height="24.8" fill="#e58139" stroke="#6a6a78" stroke-width="1.0"/>
<text x="1145.5" y="499.1" font-family="Liberation Sans" font-size="5.9" text-anchor="middle" fill="#0a0a0a" opacity="0.9">gini = 0.0</text>
<text x="1145.5" y="504.4" font-family="Liberation Sans" font-size="5.9" text-anchor="middle" fill="#0a0a0a" opacity="0.9">samples = 1</text>
<text x="1145.5" y="509.7" font-family="Liberation Sans" font-size="5.9" text-anchor="middle" fill="#0a0a0a" opacity="0.9">value = [1, 0, 0, 0, 0]</text>
<text x="1145.5" y="515.0" font-family="Liberation Sans" font-size="5.9" text-anchor="middle" fill="#0a0a0a" opacity="0.9">class = 0</text>
<rect x="1204.5" y="492.8" width="61.3" height="24.8" fill="#39e5c5" stroke="#6a6a78" stroke-width="1.0"/>
<text x="1235.2" y="499.1" font-family="Liberation Sans" font-size="5.9" text-anchor="middle" fill="#0a0a0a" opacity="0.9">gini = 0.0</text>
<text x="1235.2" y="504.4" font-family="Liberation Sans" font-size="5.9" text-anchor="middle" fill="#0a0a0a" opacity="0.9">samples = 26</text>
<text x="1235.2" y="509.7" font-family="Liberation Sans" font-size="5.9" text-anchor="middle" fill="#0a0a0a" opacity="0.9">value = [0, 0, 26, 0, 0]</text>
<text x="1235.2" y="515.0" font-family="Liberation Sans" font-size="5.9" text-anchor="middle" fill="#0a0a0a" opacity="0.9">class = 2</text>
<rect x="982.5" y="548.2" width="58.3" height="24.4" fill="#39e5c5" stroke="#6a6a78" stroke-width="1.0"/>
<text x="1011.6" y="554.2" font-family="Liberation Sans" font-size="5.9" text-anchor="middle" fill="#0a0a0a" opacity="0.9">gini = 0.0</text>
<text x="1011.6" y="559.5" font-family="Liberation Sans" font-size="5.9" text-anchor="middle" fill="#0a0a0a" opacity="0.9">samples = 2</text>
<text x="1011.6" y="564.9" font-family="Liberation Sans" font-size="5.9" text-anchor="middle" fill="#0a0a0a" opacity="0.9">value = [0, 0, 2, 0, 0]</text>
<text x="1011.6" y="570.1" font-family="Liberation Sans" font-size="5.9" text-anchor="middle" fill="#0a0a0a" opacity="0.9">class = 2</text>
<rect x="1072.3" y="548.2" width="58.2" height="24.4" fill="#e58139" stroke="#6a6a78" stroke-width="1.0"/>
<text x="1101.4" y="554.2" font-family="Liberation Sans" font-size="5.9" text-anchor="middle" fill="#0a0a0a" opacity="0.9">gini = 0.0</text>
<text x="1101.4" y="559.5" font-family="Liberation Sans" font-size="5.9" text-anchor="middle" fill="#0a0a0a" opacity="0.9">samples = 2</text>
<text x="1101.4" y="564.9" font-family="Liberation Sans" font-size="5.9" text-anchor="middle" fill="#0a0a0a" opacity="0.9">value = [2, 0, 0, 0, 0]</text>
<text x="1101.4" y="570.1" font-family="Liberation Sans" font-size="5.9" text-anchor="middle" fill="#0a0a0a" opacity="0.9">class = 0</text>
<path d="M1526.3 189.4 Q1482.2 228.1 1428.3 251.2" fill="none" stroke="#ececf2" stroke-width="1.2"/>
<path d="M1556.3 202.2 Q1556.3 221.0 1563.5 238.4" fill="none" stroke="#ececf2" stroke-width="1.2"/>
<path d="M1573.9 190.9 Q1618.2 215.4 1655.5 249.7" fill="none" stroke="#ececf2" stroke-width="1.2"/>
<path d="M1389.3 291.4 Q1378.6 314.3 1363.6 334.6" fill="none" stroke="#ececf2" stroke-width="1.2"/>
<path d="M1418.7 291.4 Q1433.6 311.7 1444.2 334.6" fill="none" stroke="#ececf2" stroke-width="1.2"/>
<path d="M1560.9 294.2 Q1555.3 313.0 1549.7 331.8" fill="none" stroke="#ececf2" stroke-width="1.2"/>
<path d="M1577.2 294.3 Q1582.7 313.0 1588.1 331.7" fill="none" stroke="#ececf2" stroke-width="1.2"/>
<path d="M1670.5 294.2 Q1664.8 313.0 1659.2 331.8" fill="none" stroke="#ececf2" stroke-width="1.2"/>
<path d="M1687.0 294.2 Q1692.5 313.0 1698.0 331.8" fill="none" stroke="#ececf2" stroke-width="1.2"/>
<path d="M1340.6 387.0 Q1333.1 405.1 1329.3 424.4" fill="none" stroke="#ececf2" stroke-width="1.2"/>
<path d="M1357.0 387.0 Q1364.4 405.2 1368.0 424.4" fill="none" stroke="#ececf2" stroke-width="1.2"/>
<path d="M1450.6 387.0 Q1446.9 406.3 1439.5 424.4" fill="none" stroke="#ececf2" stroke-width="1.2"/>
<path d="M1467.0 387.0 Q1474.0 405.3 1478.0 424.4" fill="none" stroke="#ececf2" stroke-width="1.2"/>
<path d="M1541.3 388.2 Q1541.2 405.7 1541.1 423.2" fill="none" stroke="#ececf2" stroke-width="1.2"/>
<path d="M1596.1 388.2 Q1596.1 405.7 1596.1 423.2" fill="none" stroke="#ececf2" stroke-width="1.2"/>
<path d="M1650.9 388.2 Q1650.9 405.7 1650.9 423.2" fill="none" stroke="#ececf2" stroke-width="1.2"/>
<path d="M1706.2 388.2 Q1706.2 405.7 1706.2 423.2" fill="none" stroke="#ececf2" stroke-width="1.2"/>
<path d="M1321.0 480.8 Q1322.4 498.5 1321.0 516.2" fill="none" stroke="#ececf2" stroke-width="1.2"/>
<path d="M1376.1 480.8 Q1377.5 498.5 1376.1 516.2" fill="none" stroke="#ececf2" stroke-width="1.2"/>
<circle cx="1550.6" cy="174.0" r="28.8" fill="#add8e6" stroke="#3e3e4c" stroke-width="1.3"/>
<text x="1550.6" y="177.4" font-family="Liberation Serif" font-size="9.8" text-anchor="middle" fill="#1a1a1a" stroke="#1a1a1a" stroke-width="0.25">593</text>
<circle cx="1404.0" cy="266.6" r="28.8" fill="#add8e6" stroke="#3e3e4c" stroke-width="1.3"/>
<text x="1404.0" y="270.0" font-family="Liberation Serif" font-size="9.8" text-anchor="middle" fill="#1a1a1a" stroke="#1a1a1a" stroke-width="0.25">447</text>
<circle cx="1569.2" cy="266.6" r="28.8" fill="#add8e6" stroke="#3e3e4c" stroke-width="1.3"/>
<text x="1569.2" y="270.0" font-family="Liberation Serif" font-size="9.8" text-anchor="middle" fill="#1a1a1a" stroke="#1a1a1a" stroke-width="0.25">338</text>
<circle cx="1678.8" cy="266.6" r="28.8" fill="#add8e6" stroke="#3e3e4c" stroke-width="1.3"/>
<text x="1678.8" y="270.0" font-family="Liberation Serif" font-size="9.8" text-anchor="middle" fill="#1a1a1a" stroke="#1a1a1a" stroke-width="0.25">744</text>
<circle cx="1348.9" cy="359.4" r="28.8" fill="#add8e6" stroke="#3e3e4c" stroke-width="1.3"/>
<text x="1348.9" y="362.8" font-family="Liberation Serif" font-size="9.8" text-anchor="middle" fill="#1a1a1a" stroke="#1a1a1a" stroke-width="0.25">243</text>
<circle cx="1458.9" cy="359.4" r="28.8" fill="#add8e6" stroke="#3e3e4c" stroke-width="1.3"/>
<text x="1458.9" y="362.8" font-family="Liberation Serif" font-size="9.8" text-anchor="middle" fill="#1a1a1a" stroke="#1a1a1a" stroke-width="0.25">106</text>
<circle cx="1541.4" cy="359.4" r="28.8" fill="#add8e6" stroke="#3e3e4c" stroke-width="1.3"/>
<text x="1541.4" y="362.8" font-family="Liberation Serif" font-size="9.8" text-anchor="middle" fill="#1a1a1a" stroke="#1a1a1a" stroke-width="0.25">887</text>
<circle cx="1596.1" cy="359.4" r="28.8" fill="#add8e6" stroke="#3e3e4c" stroke-width="1.3"/>
<text x="1596.1" y="362.8" font-family="Liberation Serif" font-size="9.8" text-anchor="middle" fill="#1a1a1a" stroke="#1a1a1a" stroke-width="0.25">11</text>
<circle cx="1650.9" cy="359.4" r="28.8" fill="#add8e6" stroke="#3e3e4c" stroke-width="1.3"/>
<text x="1650.9" y="362.8" font-family="Liberation Serif" font-size="9.8" text-anchor="middle" fill="#1a1a1a" stroke="#1a1a1a" stroke-width="0.25">625</text>
<circle cx="1706.2" cy="359.4" r="28.8" fill="#add8e6" stroke="#3e3e4c" stroke-width="1.3"/>
<text x="1706.2" y="362.8" font-family="Liberation Serif" font-size="9.8" text-anchor="middle" fill="#1a1a1a" stroke="#1a1a1a" stroke-width="0.25">364</text>
<circle cx="1321.0" cy="452.0" r="28.8" fill="#add8e6" stroke="#3e3e4c" stroke-width="1.3"/>
<text x="1321.0" y="455.4" font-family="Liberation Serif" font-size="9.8" text-anchor="middle" fill="#1a1a1a" stroke="#1a1a1a" stroke-width="0.25">386</text>
<circle cx="1376.1" cy="452.0" r="28.8" fill="#add8e6" stroke="#3e3e4c" stroke-width="1.3"/>
<text x="1376.1" y="455.4" font-family="Liberation Serif" font-size="9.8" text-anchor="middle" fill="#1a1a1a" stroke="#1a1a1a" stroke-width="0.25">403</text>
<circle cx="1431.2" cy="452.0" r="28.8" fill="#add8e6" stroke="#3e3e4c" stroke-width="1.3"/>
<text x="1431.2" y="455.4" font-family="Liberation Serif" font-size="9.8" text-anchor="middle" fill="#1a1a1a" stroke="#1a1a1a" stroke-width="0.25">461</text>
<circle cx="1486.1" cy="452.0" r="28.8" fill="#add8e6" stroke="#3e3e4c" stroke-width="1.3"/>
<text x="1486.1" y="455.4" font-family="Liberation Serif" font-size="9.8" text-anchor="middle" fill="#1a1a1a" stroke="#1a1a1a" stroke-width="0.25">141</text>
<circle cx="1541.0" cy="452.0" r="28.8" fill="#add8e6" stroke="#3e3e4c" stroke-width="1.3"/>
<text x="1541.0" y="455.4" font-family="Liberation Serif" font-size="9.8" text-anchor="middle" fill="#1a1a1a" stroke="#1a1a1a" stroke-width="0.25">31</text>
<circle cx="1596.1" cy="452.0" r="28.8" fill="#add8e6" stroke="#3e3e4c" stroke-width="1.3"/>
<text x="1596.1" y="455.4" font-family="Liberation Serif" font-size="9.8" text-anchor="middle" fill="#1a1a1a" stroke="#1a1a1a" stroke-width="0.25">926</text>
<circle cx="1650.9" cy="452.0" r="28.8" fill="#add8e6" stroke="#3e3e4c" stroke-width="1.3"/>
<text x="1650.9" y="455.4" font-family="Liberation Serif" font-size="9.8" text-anchor="middle" fill="#1a1a1a" stroke="#1a1a1a" stroke-width="0.25">115</text>
<circle cx="1706.2" cy="452.0" r="28.8" fill="#add8e6" stroke="#3e3e4c" stroke-width="1.3"/>
<text x="1706.2" y="455.4" font-family="Liberation Serif" font-size="9.8" text-anchor="middle" fill="#1a1a1a" stroke="#1a1a1a" stroke-width="0.25">790</text>
<circle cx="1321.0" cy="545.0" r="28.8" fill="#add8e6" stroke="#3e3e4c" stroke-width="1.3"/>
<text x="1321.0" y="548.4" font-family="Liberation Serif" font-size="9.8" text-anchor="middle" fill="#1a1a1a" stroke="#1a1a1a" stroke-width="0.25">94</text>
<circle cx="1376.1" cy="545.0" r="28.8" fill="#add8e6" stroke="#3e3e4c" stroke-width="1.3"/>
<text x="1376.1" y="548.4" font-family="Liberation Serif" font-size="9.8" text-anchor="middle" fill="#1a1a1a" stroke="#1a1a1a" stroke-width="0.25">714</text>
<rect x="1509" y="26.8" width="3" height="30" fill="#fff"/>
<path d="M1514.8 28.3 H1521 A13.3 13.3 0 0 1 1521 55.1 H1514.8" stroke="#fff" stroke-width="3" fill="none"/>
<rect x="1540.4" y="26.8" width="21.9" height="3.2" fill="#fff"/>
<rect x="1540.4" y="40.1" width="21.9" height="3.2" fill="#fff"/>
<rect x="1540.4" y="53.4" width="21.9" height="3.2" fill="#fff"/>
<circle cx="1589" cy="41.3" r="22.4" fill="#fff"/>
<rect x="1579.1" y="35.4" width="2.9" height="16.9" fill="#15143e"/>
<rect x="1595.9" y="30.8" width="3" height="17" fill="#15143e"/>
<polygon points="1579.1,27.3 1579.1,30.3 1598.9,48.6 1598.9,45.6" fill="#15143e"/>
<polygon points="1579.1,35.4 1579.1,38.6 1598.9,56.0 1598.9,52.8" fill="#15143e"/>
<rect x="1615.9" y="26.8" width="21.8" height="3.2" fill="#fff"/>
<rect x="1615.9" y="40.1" width="21.8" height="3.2" fill="#fff"/>
<rect x="1615.9" y="53.4" width="21.8" height="3.2" fill="#fff"/>
<polygon points="1642.8,26.4 1647.5,26.4 1676.4,56.8 1671.7,56.8" fill="#fff"/>
<polygon points="1671.7,26.4 1676.4,26.4 1647.5,56.8 1642.8,56.8" fill="#fff"/>
<path d="M1685.7 26.4 V42 A13.35 13.35 0 0 0 1712.4 42 V26.4" stroke="#fff" stroke-width="3" fill="none"/>
<path d="M1741 27.9 H1727.3 A8 6.45 0 0 0 1727.3 40.8 H1733.3 A6.8 6.45 0 0 1 1733.3 53.7 H1718.6" stroke="#fff" stroke-width="3" fill="none"/>
<polygon points="1736.6,29.45 1741.6,26.4 1744,26.4 1744,30 1736.6,30" fill="#15143e"/>
<polygon points="1716,52 1723,52 1723,52.2 1718,55.2 1716,55.2" fill="#15143e"/>
<polygon points="1736.6,26.4 1741.6,26.4 1736.6,29.45" fill="#fff"/>
<polygon points="1718,55.2 1723,52.2 1723,55.2" fill="#fff"/>
<g opacity="0.999">
<text transform="translate(19.39 48.50) scale(0.9128 1)" font-family="Liberation Sans" font-weight="bold" font-size="51.01" fill="#ffffff" stroke="#ffffff" stroke-width="1.31" stroke-linejoin="round">Risk Accumulation for 680 Facilities</text>
<text transform="translate(20.07 127.60) scale(1.0212 1)" font-family="Liberation Sans" font-weight="normal" font-size="28.26" fill="#00b0f0" stroke="#00b0f0" stroke-width="0.34" stroke-linejoin="round">An illustrative example</text>
<text transform="translate(195.52 635.60) scale(0.9578 1)" font-family="Liberation Sans" font-weight="normal" font-size="18.55" fill="#ffffff" stroke="#ffffff" stroke-width="0.31" stroke-linejoin="round">Clustering strategy</text>
<text transform="translate(707.74 635.90) scale(0.9731 1)" font-family="Liberation Sans" font-weight="normal" font-size="18.55" fill="#ffffff" stroke="#ffffff" stroke-width="0.31" stroke-linejoin="round">Decision tree generated from the clustering strategy</text>
<text transform="translate(1367.78 633.70) scale(0.9643 1)" font-family="Liberation Sans" font-weight="normal" font-size="18.84" fill="#ffffff" stroke="#ffffff" stroke-width="0.31" stroke-linejoin="round">Sub-tree of the first tree of the R-vine</text>
<text transform="translate(217.37 723.90) scale(0.9303 1)" font-family="Liberation Sans" font-weight="normal" font-size="25.22" fill="#ffffff" stroke="#ffffff" stroke-width="0.64" stroke-linejoin="round">If one facility experiences an attack attempt, it is more likely that this attempt will happen</text>
<text transform="translate(217.07 752.20) scale(0.9255 1)" font-family="Liberation Sans" font-weight="normal" font-size="25.22" fill="#ffffff" stroke="#ffffff" stroke-width="0.65" stroke-linejoin="round">at facilities that are similar to it, compared to facilities bearing fewer similarities.</text>
<text transform="translate(1336.17 694.60) scale(0.9240 1)" font-family="Liberation Sans" font-weight="normal" font-size="25.36" fill="#ffffff" stroke="#ffffff" stroke-width="0.65" stroke-linejoin="round">From facility relationships, build the first</text>
<text transform="translate(1337.00 722.60) scale(0.9093 1)" font-family="Liberation Sans" font-weight="normal" font-size="25.36" fill="#ffffff" stroke="#ffffff" stroke-width="0.66" stroke-linejoin="round">tree of the R-vine, where nodes represent</text>
<text transform="translate(1335.98 750.10) scale(0.9137 1)" font-family="Liberation Sans" font-weight="normal" font-size="25.36" fill="#ffffff" stroke="#ffffff" stroke-width="0.66" stroke-linejoin="round">each facility&#39;s NoA</text>
<text transform="translate(1379.83 783.50) scale(0.9634 1)" font-family="Liberation Sans" font-weight="normal" font-size="20.14" fill="#6ac4f4" stroke="#6ac4f4" stroke-width="0.52" stroke-linejoin="round">Prioritize edges of related facilities in tree</text>
<text transform="translate(1380.73 805.60) scale(0.9836 1)" font-family="Liberation Sans" font-weight="normal" font-size="20.14" fill="#6ac4f4" stroke="#6ac4f4" stroke-width="0.51" stroke-linejoin="round">construction</text>
<text transform="translate(1381.35 829.40) scale(0.9346 1)" font-family="Liberation Sans" font-weight="normal" font-size="20.14" fill="#6ac4f4" stroke="#6ac4f4" stroke-width="0.53" stroke-linejoin="round">Assign copulas and parameters to these</text>
<text transform="translate(1380.79 851.60) scale(0.8932 1)" font-family="Liberation Sans" font-weight="normal" font-size="20.14" fill="#6ac4f4" stroke="#6ac4f4" stroke-width="0.56" stroke-linejoin="round">edges</text>
<text transform="translate(1379.86 876.00) scale(0.9482 1)" font-family="Liberation Sans" font-weight="normal" font-size="20.14" fill="#6ac4f4" stroke="#6ac4f4" stroke-width="0.53" stroke-linejoin="round">For unrelated facilities, assign Product</text>
<text transform="translate(1380.77 899.40) scale(0.9241 1)" font-family="Liberation Sans" font-weight="normal" font-size="20.14" fill="#6ac4f4" stroke="#6ac4f4" stroke-width="0.54" stroke-linejoin="round">copulas</text>
<text transform="translate(48.17 614.50) scale(0.9567 1)" font-family="Liberation Sans" font-weight="normal" font-size="12.17" fill="#ffffff" stroke="#ffffff" stroke-width="0.57" stroke-linejoin="round">Dimension 1</text>
<text transform="translate(125.30 522.40) scale(0.8391 1)" text-anchor="middle" font-family="Liberation Sans" font-weight="bold" font-size="15.07" fill="#ffffff">Cluster</text>
<text transform="translate(125.00 537.90) scale(0.8391 1)" text-anchor="middle" font-family="Liberation Sans" font-weight="bold" font-size="15.07" fill="#ffffff">1</text>
<text transform="translate(234.00 409.40) scale(0.8391 1)" text-anchor="middle" font-family="Liberation Sans" font-weight="bold" font-size="15.07" fill="#ffffff">Cluster</text>
<text transform="translate(234.00 424.80) scale(0.8391 1)" text-anchor="middle" font-family="Liberation Sans" font-weight="bold" font-size="15.07" fill="#ffffff">2</text>
<text transform="translate(341.50 550.60) scale(0.8391 1)" text-anchor="middle" font-family="Liberation Sans" font-weight="bold" font-size="15.07" fill="#ffffff">Cluster</text>
<text transform="translate(341.50 565.80) scale(0.8391 1)" text-anchor="middle" font-family="Liberation Sans" font-weight="bold" font-size="15.07" fill="#ffffff">3</text>
<text transform="translate(468.30 400.60) scale(0.8391 1)" text-anchor="middle" font-family="Liberation Sans" font-weight="bold" font-size="15.07" fill="#ffffff">Cluster</text>
<text transform="translate(468.30 416.00) scale(0.8391 1)" text-anchor="middle" font-family="Liberation Sans" font-weight="bold" font-size="15.07" fill="#ffffff">4</text>
<text transform="translate(510.00 254.90) scale(0.8391 1)" text-anchor="middle" font-family="Liberation Sans" font-weight="bold" font-size="15.07" fill="#ffffff">Cluster</text>
<text transform="translate(509.90 270.40) scale(0.8391 1)" text-anchor="middle" font-family="Liberation Sans" font-weight="bold" font-size="15.07" fill="#ffffff">5</text>
<text transform="translate(29.4 597.41) rotate(-90) scale(0.8936 1)" font-family="Liberation Sans" font-size="13.04" fill="#ffffff" stroke="#ffffff" stroke-width="0.55">Dimension 2</text>
</g>
<!-- squiggle under 'similar to' -->
<circle cx="1359.8" cy="778.9" r="4.2" fill="none" stroke="#6ac4f4" stroke-width="1.75"/>
<circle cx="1359.8" cy="825.2" r="4.2" fill="none" stroke="#6ac4f4" stroke-width="1.75"/>
<circle cx="1359.8" cy="871.4" r="4.2" fill="none" stroke="#6ac4f4" stroke-width="1.75"/>
<line x1="419" y1="752.4" x2="512" y2="752.4" stroke="#f0f0f0" stroke-width="1" stroke-dasharray="2 3.25"/>
<line x1="419" y1="754.3" x2="512" y2="754.3" stroke="#d07a30" stroke-width="2.2" stroke-dasharray="2 3.25"/>
</svg>
</body></html>
